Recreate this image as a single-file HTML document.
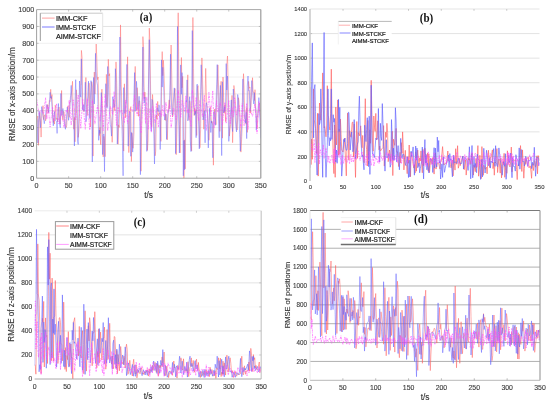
<!DOCTYPE html>
<html><head><meta charset="utf-8"><title>RMSE comparison</title>
<style>html,body{margin:0;padding:0;background:#fff;width:550px;height:405px;overflow:hidden}svg{display:block}</style>
</head><body>
<svg width="550" height="405" viewBox="0 0 550 405">
<rect x="0" y="0" width="550" height="405" fill="#ffffff"/>
<line x1="36.60" y1="161.34" x2="260.80" y2="161.34" stroke="#e8e8e8" stroke-width="0.8" />
<line x1="36.60" y1="144.48" x2="260.80" y2="144.48" stroke="#dcdcdc" stroke-width="0.8" />
<line x1="36.60" y1="127.62" x2="260.80" y2="127.62" stroke="#e8e8e8" stroke-width="0.8" />
<line x1="36.60" y1="110.76" x2="260.80" y2="110.76" stroke="#dcdcdc" stroke-width="0.8" />
<line x1="36.60" y1="93.90" x2="260.80" y2="93.90" stroke="#e8e8e8" stroke-width="0.8" />
<line x1="36.60" y1="77.04" x2="260.80" y2="77.04" stroke="#ececec" stroke-width="0.8" />
<line x1="36.60" y1="60.18" x2="260.80" y2="60.18" stroke="#dcdcdc" stroke-width="0.8" />
<line x1="36.60" y1="43.32" x2="260.80" y2="43.32" stroke="#ececec" stroke-width="0.8" />
<line x1="36.60" y1="26.46" x2="260.80" y2="26.46" stroke="#dcdcdc" stroke-width="0.8" />
<line x1="310.30" y1="156.43" x2="539.50" y2="156.43" stroke="#e0e0e0" stroke-width="0.9" />
<line x1="310.30" y1="131.86" x2="539.50" y2="131.86" stroke="#e0e0e0" stroke-width="0.9" />
<line x1="310.30" y1="107.29" x2="539.50" y2="107.29" stroke="#e0e0e0" stroke-width="0.9" />
<line x1="310.30" y1="82.71" x2="539.50" y2="82.71" stroke="#e0e0e0" stroke-width="0.9" />
<line x1="310.30" y1="58.14" x2="539.50" y2="58.14" stroke="#e0e0e0" stroke-width="0.9" />
<line x1="310.30" y1="33.57" x2="539.50" y2="33.57" stroke="#e0e0e0" stroke-width="0.9" />
<line x1="34.90" y1="354.97" x2="261.00" y2="354.97" stroke="#f6f6f6" stroke-width="0.9" />
<line x1="34.90" y1="330.94" x2="261.00" y2="330.94" stroke="#e0e0e0" stroke-width="0.9" />
<line x1="34.90" y1="306.91" x2="261.00" y2="306.91" stroke="#f6f6f6" stroke-width="0.9" />
<line x1="34.90" y1="282.89" x2="261.00" y2="282.89" stroke="#e0e0e0" stroke-width="0.9" />
<line x1="34.90" y1="258.86" x2="261.00" y2="258.86" stroke="#e0e0e0" stroke-width="0.9" />
<line x1="34.90" y1="234.83" x2="261.00" y2="234.83" stroke="#e0e0e0" stroke-width="0.9" />
<line x1="310.00" y1="361.43" x2="540.00" y2="361.43" stroke="#a8a8a8" stroke-width="0.9" />
<line x1="310.00" y1="342.57" x2="540.00" y2="342.57" stroke="#a8a8a8" stroke-width="0.9" />
<line x1="310.00" y1="323.70" x2="540.00" y2="323.70" stroke="#a8a8a8" stroke-width="0.9" />
<line x1="310.00" y1="304.83" x2="540.00" y2="304.83" stroke="#a8a8a8" stroke-width="0.9" />
<line x1="310.00" y1="285.97" x2="540.00" y2="285.97" stroke="#a8a8a8" stroke-width="0.9" />
<line x1="310.00" y1="267.10" x2="540.00" y2="267.10" stroke="#a8a8a8" stroke-width="0.9" />
<line x1="310.00" y1="248.23" x2="540.00" y2="248.23" stroke="#a8a8a8" stroke-width="0.9" />
<line x1="310.00" y1="229.37" x2="540.00" y2="229.37" stroke="#a8a8a8" stroke-width="0.9" />
<defs><filter id="soft" x="-5%" y="-5%" width="110%" height="110%"><feGaussianBlur stdDeviation="0.2"/></filter><clipPath id="clipa"><rect x="36.6" y="9.6" width="224.2" height="169.1"/></clipPath>
<clipPath id="clipb"><rect x="310.3" y="9.0" width="229.2" height="172.5"/></clipPath>
<clipPath id="clipc"><rect x="34.6" y="210.8" width="226.6" height="168.7"/></clipPath>
<clipPath id="clipd"><rect x="310.0" y="210.5" width="230.0" height="170.3"/></clipPath></defs>
<g clip-path="url(#clipa)"><g filter="url(#soft)">
<polyline fill="none" stroke="#ff6060" stroke-width="0.45" stroke-linejoin="round"  points="36.6,124.3 37.2,118.2 37.9,115.9 38.5,145.3 39.2,122.3 39.8,112.5 40.4,118.8 41.1,137.1 41.7,118.6 42.4,111.7 43.0,105.7 43.6,119.7 44.3,116.0 44.9,114.7 45.6,120.8 46.2,117.7 46.8,108.2 47.5,104.6 48.1,113.1 48.8,107.1 49.4,100.6 50.1,101.4 50.7,89.3 51.3,99.1 52.0,94.6 52.6,113.6 53.3,122.6 53.9,118.3 54.5,124.1 55.2,105.2 55.8,107.3 56.5,119.4 57.1,118.2 57.7,121.8 58.4,115.8 59.0,107.0 59.7,122.0 60.3,124.3 60.9,111.3 61.6,90.5 62.2,115.5 62.9,120.2 63.5,111.5 64.1,111.9 64.8,119.9 65.4,124.4 66.1,127.6 66.7,125.5 67.3,114.6 68.0,105.9 68.6,114.2 69.3,117.3 69.9,101.7 70.6,101.8 71.2,95.0 71.8,90.9 72.5,81.3 73.1,113.4 73.8,129.2 74.4,117.3 75.0,141.8 75.7,102.0 76.3,89.8 77.0,102.1 77.6,124.2 78.2,137.4 78.9,131.2 79.5,113.3 80.2,85.6 80.8,85.0 81.4,50.4 82.1,57.6 82.7,108.7 83.4,109.3 84.0,111.5 84.6,104.7 85.3,96.8 85.9,77.5 86.6,109.8 87.2,115.5 87.8,106.9 88.5,96.0 89.1,83.2 89.8,107.5 90.4,127.0 91.0,94.9 91.7,81.8 92.3,85.0 93.0,156.1 93.6,102.0 94.3,72.0 94.9,94.1 95.5,71.5 96.2,44.0 96.8,58.8 97.5,79.6 98.1,77.0 98.7,104.9 99.4,135.6 100.0,127.4 100.7,144.7 101.3,103.4 101.9,89.1 102.6,111.4 103.2,156.9 103.9,136.4 104.5,140.6 105.1,156.7 105.8,117.3 106.4,74.4 107.1,106.8 107.7,94.3 108.3,59.3 109.0,76.1 109.6,73.7 110.3,114.1 110.9,118.5 111.5,125.6 112.2,142.3 112.8,120.7 113.5,99.4 114.1,102.3 114.7,110.6 115.4,99.7 116.0,61.9 116.7,83.3 117.3,117.8 118.0,144.3 118.6,124.8 119.2,127.5 119.9,86.3 120.5,24.9 121.2,77.9 121.8,108.0 122.4,124.4 123.1,132.4 123.7,151.1 124.4,83.8 125.0,105.0 125.6,117.8 126.3,101.6 126.9,93.6 127.6,56.8 128.2,98.7 128.8,152.6 129.5,129.5 130.1,111.2 130.8,106.6 131.4,161.6 132.0,132.8 132.7,147.8 133.3,148.2 134.0,131.9 134.6,94.0 135.2,66.4 135.9,98.0 136.5,110.4 137.2,87.7 137.8,99.8 138.5,116.3 139.1,100.7 139.7,101.0 140.4,110.4 141.0,171.2 141.7,127.1 142.3,92.9 142.9,36.6 143.6,48.1 144.2,98.6 144.9,92.1 145.5,98.9 146.1,105.4 146.8,125.7 147.4,150.4 148.1,140.2 148.7,78.5 149.3,28.1 150.0,44.5 150.6,90.6 151.3,126.7 151.9,126.8 152.5,94.5 153.2,105.8 153.8,117.8 154.5,136.2 155.1,155.8 155.7,151.2 156.4,115.0 157.0,119.2 157.7,101.4 158.3,115.9 158.9,113.2 159.6,113.7 160.2,112.9 160.9,141.4 161.5,91.5 162.2,51.6 162.8,75.7 163.4,60.2 164.1,75.0 164.7,100.6 165.4,120.5 166.0,114.2 166.6,121.3 167.3,139.8 167.9,122.5 168.6,105.8 169.2,99.9 169.8,109.1 170.5,80.8 171.1,45.0 171.8,79.2 172.4,117.0 173.0,115.3 173.7,112.1 174.3,93.3 175.0,88.5 175.6,102.0 176.2,154.7 176.9,131.0 177.5,98.5 178.2,12.8 178.8,77.6 179.4,124.4 180.1,152.9 180.7,105.2 181.4,57.5 182.0,87.9 182.7,76.3 183.3,108.5 183.9,178.2 184.6,139.9 185.2,168.9 185.9,118.5 186.5,102.9 187.1,98.3 187.8,74.8 188.4,113.9 189.1,120.4 189.7,100.7 190.3,103.8 191.0,139.7 191.6,150.8 192.3,92.7 192.9,17.5 193.5,68.6 194.2,115.5 194.8,107.7 195.5,113.7 196.1,109.5 196.7,135.5 197.4,88.7 198.0,85.6 198.7,102.0 199.3,124.8 199.9,147.7 200.6,129.8 201.2,89.7 201.9,57.9 202.5,77.2 203.1,100.2 203.8,129.2 204.4,109.3 205.1,99.5 205.7,68.4 206.4,95.1 207.0,111.5 207.6,113.8 208.3,125.1 208.9,140.3 209.6,125.4 210.2,106.7 210.8,110.1 211.5,123.1 212.1,121.5 212.8,125.3 213.4,165.2 214.0,119.2 214.7,109.0 215.3,116.1 216.0,124.7 216.6,99.2 217.2,89.4 217.9,64.9 218.5,85.1 219.2,114.9 219.8,131.4 220.4,93.0 221.1,81.3 221.7,103.2 222.4,138.2 223.0,77.0 223.6,97.5 224.3,113.2 224.9,104.8 225.6,121.7 226.2,108.6 226.8,64.1 227.5,56.0 228.1,79.2 228.8,110.7 229.4,136.1 230.1,128.8 230.7,124.2 231.3,110.3 232.0,95.4 232.6,142.7 233.3,118.7 233.9,85.5 234.5,90.4 235.2,97.4 235.8,110.3 236.5,124.8 237.1,130.0 237.7,117.9 238.4,97.7 239.0,101.2 239.7,112.3 240.3,122.8 240.9,152.1 241.6,139.5 242.2,126.1 242.9,94.4 243.5,73.7 244.1,89.0 244.8,118.9 245.4,119.2 246.1,124.3 246.7,107.7 247.3,132.4 248.0,95.1 248.6,81.4 249.3,88.2 249.9,87.2 250.6,113.2 251.2,100.6 251.8,90.8 252.5,77.7 253.1,92.2 253.8,92.2 254.4,100.6 255.0,89.7 255.7,107.2 256.3,113.8 257.0,128.9 257.6,120.3 258.2,112.4 258.9,105.5 259.5,103.1 260.2,110.8 260.8,126.9"/>
<polyline fill="none" stroke="#6060ff" stroke-width="0.45" stroke-linejoin="round"  points="36.6,117.8 37.2,121.1 37.9,143.0 38.5,121.0 39.2,111.2 39.8,119.5 40.4,127.7 41.1,117.2 41.7,106.6 42.4,110.9 43.0,115.2 43.6,119.4 44.3,123.7 44.9,118.9 45.6,114.1 46.2,109.4 46.8,104.6 47.5,107.2 48.1,109.8 48.8,112.5 49.4,104.5 50.1,92.3 50.7,98.0 51.3,96.5 52.0,106.3 52.6,116.0 53.3,125.8 53.9,118.7 54.5,111.6 55.2,116.3 55.8,120.9 56.5,121.4 57.1,133.4 57.7,114.6 58.4,103.5 59.0,114.1 59.7,124.6 60.3,127.8 60.9,93.4 61.6,115.3 62.2,115.2 62.9,108.5 63.5,113.6 64.1,118.7 64.8,125.7 65.4,129.3 66.1,123.8 66.7,114.4 67.3,107.1 68.0,113.7 68.6,120.3 69.3,112.8 69.9,105.3 70.6,95.3 71.2,85.4 71.8,97.6 72.5,110.7 73.1,120.9 73.8,122.4 74.4,146.0 75.0,101.1 75.7,79.7 76.3,99.9 77.0,120.1 77.6,141.2 78.2,144.5 78.9,114.6 79.5,81.0 80.2,94.1 80.8,97.2 81.4,58.9 82.1,101.9 82.7,110.0 83.4,104.7 84.0,111.3 84.6,108.5 85.3,82.2 85.9,121.9 86.6,118.5 87.2,106.1 87.8,93.7 88.5,81.2 89.1,99.9 89.8,118.5 90.4,99.6 91.0,80.7 91.7,86.3 92.3,162.0 93.0,99.7 93.6,77.4 94.3,104.0 94.9,87.1 95.5,53.3 96.2,71.4 96.8,81.8 97.5,85.2 98.1,113.5 98.7,140.3 99.4,130.1 100.0,133.5 100.7,111.4 101.3,92.6 101.9,119.3 102.6,154.6 103.2,134.7 103.9,134.0 104.5,171.6 105.1,116.3 105.8,83.7 106.4,102.9 107.1,108.3 107.7,66.5 108.3,78.9 109.0,101.0 109.6,115.9 110.3,124.8 110.9,127.6 111.5,136.1 112.2,117.7 112.8,96.7 113.5,102.0 114.1,107.4 114.7,103.5 115.4,68.7 116.0,82.5 116.7,110.2 117.3,144.0 118.0,130.0 118.6,118.4 119.2,100.0 119.9,37.0 120.5,84.9 121.2,113.0 121.8,121.3 122.4,141.2 123.1,175.8 123.7,87.6 124.4,113.1 125.0,113.3 125.6,105.1 126.3,102.7 126.9,64.4 127.6,116.4 128.2,146.2 128.8,128.9 129.5,111.5 130.1,112.2 130.8,156.3 131.4,132.5 132.0,137.6 132.7,152.1 133.3,125.5 134.0,93.7 134.6,72.6 135.2,111.3 135.9,101.4 136.5,81.3 137.2,95.5 137.8,109.6 138.5,103.0 139.1,96.3 139.7,106.2 140.4,174.7 141.0,122.6 141.7,108.5 142.3,97.9 142.9,47.0 143.6,87.8 144.2,103.1 144.9,97.0 145.5,106.9 146.1,125.5 146.8,151.4 147.4,140.5 148.1,108.8 148.7,71.7 149.3,39.7 150.0,84.7 150.6,118.8 151.3,131.2 151.9,99.4 152.5,100.1 153.2,109.6 153.8,134.1 154.5,164.0 155.1,134.6 155.7,118.1 156.4,112.9 157.0,107.6 157.7,109.6 158.3,111.6 158.9,104.8 159.6,107.1 160.2,149.5 160.9,107.5 161.5,59.9 162.2,87.1 162.8,67.3 163.4,78.3 164.1,100.4 164.7,120.0 165.4,113.6 166.0,114.7 166.6,139.4 167.3,122.3 167.9,113.5 168.6,110.9 169.2,108.3 169.8,95.2 170.5,54.2 171.1,91.9 171.8,112.6 172.4,114.9 173.0,105.9 173.7,96.9 174.3,87.9 175.0,103.5 175.6,153.6 176.2,126.7 176.9,116.6 177.5,26.5 178.2,97.3 178.8,125.8 179.4,152.9 180.1,116.1 180.7,64.9 181.4,94.3 182.0,72.6 182.7,106.7 183.3,175.8 183.9,140.4 184.6,169.8 185.2,117.6 185.9,100.4 186.5,102.0 187.1,79.9 187.8,120.8 188.4,117.1 189.1,101.2 189.7,96.7 190.3,141.1 191.0,151.6 191.6,109.2 192.3,30.6 192.9,89.8 193.5,105.7 194.2,110.4 194.8,115.1 195.5,111.2 196.1,137.7 196.7,84.8 197.4,84.1 198.0,105.7 198.7,127.3 199.3,148.9 199.9,120.9 200.6,92.8 201.2,64.8 201.9,83.2 202.5,101.6 203.1,120.0 203.8,114.9 204.4,110.7 205.1,142.8 205.7,107.4 206.4,102.7 207.0,106.2 207.6,121.3 208.3,147.9 208.9,123.2 209.6,108.3 210.2,120.4 210.8,132.5 211.5,120.9 212.1,123.9 212.8,157.8 213.4,115.1 214.0,111.5 214.7,118.4 215.3,125.3 216.0,105.1 216.6,84.9 217.2,64.6 217.9,89.4 218.5,118.4 219.2,137.7 219.8,98.8 220.4,85.4 221.1,117.0 221.7,155.6 222.4,81.8 223.0,107.4 223.6,112.9 224.3,106.6 224.9,111.7 225.6,106.4 226.2,63.6 226.8,90.0 227.5,76.1 228.1,108.8 228.8,141.4 229.4,131.0 230.1,120.6 230.7,110.2 231.3,99.9 232.0,126.4 232.6,131.6 233.3,89.0 233.9,95.8 234.5,107.4 235.2,117.0 235.8,126.7 236.5,131.8 237.1,122.6 237.7,94.5 238.4,100.9 239.0,117.7 239.7,134.4 240.3,151.1 240.9,139.2 241.6,127.2 242.2,107.1 242.9,78.9 243.5,102.4 244.1,113.2 244.8,118.1 245.4,123.1 246.1,112.3 246.7,138.6 247.3,86.2 248.0,76.0 248.6,90.6 249.3,90.5 249.9,111.2 250.6,106.8 251.2,93.7 251.8,80.6 252.5,89.4 253.1,98.2 253.8,104.0 254.4,92.6 255.0,105.9 255.7,108.7 256.3,130.1 257.0,116.1 257.6,116.4 258.2,107.0 258.9,97.6 259.5,111.2 260.2,124.8 260.8,138.4"/>
<polyline fill="none" stroke="#ff48ff" stroke-width="0.6" stroke-dasharray="2.2,0.9,0.8,0.9" stroke-linejoin="round"  points="36.6,98.9 37.2,102.8 37.9,106.7 38.5,110.6 39.2,114.5 39.8,113.2 40.4,111.9 41.1,110.6 41.7,111.4 42.4,112.1 43.0,112.9 43.6,113.7 44.3,108.4 44.9,103.1 45.6,97.8 46.2,108.6 46.8,119.3 47.5,112.4 48.1,105.6 48.8,112.7 49.4,119.9 50.1,127.1 50.7,122.1 51.3,117.1 52.0,112.1 52.6,107.1 53.3,113.9 53.9,120.8 54.5,116.5 55.2,112.2 55.8,107.9 56.5,103.5 57.1,108.7 57.7,113.8 58.4,118.9 59.0,124.0 59.7,120.7 60.3,117.4 60.9,114.1 61.6,110.8 62.2,115.1 62.9,119.3 63.5,123.6 64.1,127.8 64.8,121.9 65.4,115.9 66.1,110.0 66.7,111.3 67.3,112.5 68.0,108.3 68.6,104.2 69.3,100.0 69.9,108.5 70.6,116.9 71.2,125.4 71.8,116.9 72.5,108.3 73.1,99.8 73.8,104.9 74.4,110.0 75.0,115.1 75.7,120.3 76.3,113.9 77.0,107.4 77.6,101.0 78.2,94.6 78.9,103.1 79.5,111.6 80.2,120.1 80.8,128.5 81.4,118.8 82.1,109.0 82.7,99.2 83.4,106.7 84.0,114.2 84.6,121.7 85.3,129.3 85.9,119.0 86.6,108.7 87.2,98.4 87.8,106.3 88.5,114.2 89.1,122.1 89.8,129.9 90.4,122.4 91.0,114.9 91.7,107.4 92.3,99.9 93.0,106.0 93.6,112.1 94.3,118.2 94.9,124.3 95.5,119.6 96.2,115.0 96.8,110.4 97.5,105.7 98.1,109.6 98.7,113.5 99.4,117.4 100.0,121.3 100.7,113.1 101.3,104.9 101.9,96.8 102.6,113.7 103.2,130.6 103.9,118.4 104.5,106.1 105.1,93.9 105.8,103.1 106.4,112.3 107.1,121.6 107.7,130.8 108.3,124.6 109.0,118.4 109.6,112.2 110.3,106.1 110.9,108.2 111.5,110.4 112.2,112.5 112.8,114.7 113.5,103.2 114.1,91.8 114.7,100.3 115.4,108.8 116.0,117.3 116.7,125.9 117.3,116.6 118.0,107.2 118.6,109.2 119.2,111.1 119.9,113.1 120.5,112.0 121.2,110.9 121.8,109.9 122.4,113.0 123.1,116.2 123.7,119.4 124.4,122.5 125.0,111.3 125.6,100.0 126.3,107.9 126.9,115.7 127.6,123.6 128.2,119.8 128.8,115.9 129.5,112.1 130.1,108.3 130.8,109.1 131.4,110.0 132.0,110.9 132.7,111.7 133.3,106.1 134.0,100.5 134.6,94.9 135.2,100.1 135.9,105.2 136.5,110.4 137.2,115.5 137.8,110.0 138.5,104.5 139.1,111.6 139.7,118.7 140.4,125.9 141.0,133.0 141.7,122.8 142.3,112.6 142.9,102.3 143.6,92.1 144.2,102.5 144.9,112.9 145.5,123.3 146.1,110.0 146.8,96.7 147.4,113.2 148.1,129.7 148.7,122.5 149.3,115.4 150.0,108.2 150.6,120.2 151.3,132.2 151.9,119.3 152.5,106.5 153.2,110.6 153.8,114.8 154.5,118.9 155.1,123.1 155.7,113.2 156.4,103.3 157.0,111.3 157.7,119.2 158.3,127.2 158.9,121.6 159.6,116.0 160.2,110.5 160.9,113.6 161.5,116.7 162.2,111.1 162.8,105.5 163.4,111.1 164.1,116.7 164.7,111.8 165.4,107.0 166.0,102.1 166.6,107.6 167.3,113.0 167.9,110.8 168.6,108.6 169.2,106.4 169.8,104.2 170.5,116.1 171.1,127.9 171.8,122.9 172.4,118.0 173.0,113.0 173.7,108.0 174.3,111.0 175.0,114.0 175.6,117.1 176.2,120.1 176.9,110.1 177.5,100.1 178.2,90.1 178.8,97.0 179.4,103.9 180.1,110.7 180.7,117.6 181.4,109.0 182.0,100.4 182.7,103.2 183.3,106.1 183.9,108.9 184.6,111.7 185.2,103.6 185.9,95.4 186.5,104.3 187.1,113.2 187.8,111.0 188.4,108.8 189.1,113.1 189.7,117.5 190.3,121.9 191.0,126.2 191.6,108.0 192.3,89.8 192.9,95.6 193.5,101.4 194.2,107.1 194.8,112.9 195.5,105.0 196.1,97.2 196.7,103.1 197.4,109.0 198.0,114.9 198.7,120.9 199.3,110.7 199.9,100.6 200.6,104.7 201.2,108.8 201.9,112.9 202.5,117.0 203.1,109.9 203.8,102.7 204.4,95.5 205.1,107.1 205.7,118.7 206.4,130.3 207.0,120.8 207.6,111.3 208.3,101.9 208.9,92.4 209.6,100.2 210.2,108.1 210.8,116.0 211.5,107.5 212.1,99.0 212.8,90.5 213.4,109.2 214.0,127.8 214.7,121.0 215.3,114.2 216.0,107.4 216.6,100.5 217.2,106.4 217.9,112.2 218.5,109.7 219.2,107.3 219.8,104.8 220.4,102.3 221.1,109.8 221.7,117.2 222.4,124.6 223.0,119.1 223.6,113.5 224.3,107.9 224.9,102.3 225.6,112.7 226.2,123.1 226.8,117.5 227.5,111.8 228.1,106.2 228.8,100.5 229.4,112.3 230.1,124.1 230.7,118.6 231.3,113.1 232.0,107.6 232.6,112.1 233.3,116.6 233.9,107.2 234.5,97.8 235.2,103.7 235.8,109.6 236.5,115.5 237.1,113.0 237.7,110.5 238.4,108.0 239.0,105.5 239.7,112.9 240.3,120.3 240.9,127.7 241.6,115.7 242.2,103.7 242.9,111.0 243.5,118.2 244.1,125.5 244.8,119.9 245.4,114.4 246.1,108.8 246.7,103.3 247.3,116.6 248.0,129.9 248.6,122.7 249.3,115.5 249.9,108.3 250.6,110.4 251.2,112.4 251.8,114.5 252.5,116.5 253.1,113.3 253.8,110.2 254.4,107.0 255.0,103.8 255.7,113.7 256.3,123.6 257.0,133.5 257.6,122.8 258.2,112.0 258.9,101.2 259.5,108.0 260.2,114.8 260.8,121.6"/>
</g></g>
<g clip-path="url(#clipb)"><g filter="url(#soft)">
<polyline fill="none" stroke="#ff6060" stroke-width="0.65" stroke-linejoin="round"  points="310.3,87.2 311.0,164.6 311.6,139.1 312.3,159.3 312.9,124.1 313.6,88.9 314.2,119.8 314.9,124.1 315.5,128.5 316.2,141.0 316.8,153.6 317.5,113.3 318.2,176.1 318.8,150.7 319.5,103.0 320.1,111.6 320.8,120.2 321.4,112.2 322.1,97.0 322.7,72.9 323.4,110.4 324.1,127.8 324.7,126.6 325.4,131.7 326.0,136.8 326.7,125.0 327.3,85.7 328.0,115.2 328.6,117.8 329.3,126.4 329.9,130.1 330.6,113.6 331.3,69.2 331.9,113.0 332.6,130.9 333.2,158.0 333.9,173.6 334.5,125.0 335.2,177.3 335.8,107.1 336.5,144.9 337.1,125.1 337.8,99.9 338.5,155.2 339.1,128.9 339.8,154.3 340.4,119.0 341.1,134.5 341.7,150.0 342.4,151.0 343.0,152.0 343.7,145.1 344.4,138.3 345.0,148.8 345.7,162.3 346.3,175.8 347.0,144.4 347.6,113.1 348.3,136.6 348.9,160.1 349.6,130.6 350.2,133.9 350.9,137.2 351.6,129.9 352.2,122.4 352.9,122.0 353.5,157.1 354.2,124.1 354.8,150.8 355.5,177.4 356.1,149.5 356.8,121.5 357.4,158.4 358.1,132.5 358.8,134.2 359.4,135.8 360.1,130.8 360.7,125.8 361.4,136.8 362.0,147.8 362.7,135.4 363.3,149.1 364.0,162.8 364.7,128.2 365.3,98.7 366.0,144.1 366.6,149.3 367.3,166.0 367.9,120.4 368.6,163.9 369.2,146.8 369.9,129.8 370.5,143.3 371.2,80.3 371.9,114.6 372.5,142.0 373.2,151.3 373.8,116.0 374.5,127.2 375.1,131.4 375.8,113.4 376.4,139.9 377.1,136.6 377.8,120.8 378.4,135.3 379.1,149.8 379.7,146.1 380.4,151.2 381.0,150.2 381.7,149.1 382.3,148.3 383.0,147.4 383.6,125.6 384.3,166.1 385.0,149.2 385.6,132.2 386.3,137.4 386.9,123.3 387.6,132.4 388.2,161.7 388.9,155.8 389.5,150.0 390.2,155.7 390.8,161.5 391.5,146.4 392.2,131.3 392.8,175.6 393.5,139.2 394.1,142.3 394.8,145.4 395.4,136.9 396.1,128.4 396.7,152.2 397.4,151.8 398.1,159.2 398.7,166.6 399.4,159.5 400.0,152.3 400.7,162.9 401.3,142.6 402.0,153.3 402.6,131.9 403.3,147.7 403.9,169.9 404.6,160.1 405.3,150.3 405.9,165.1 406.6,165.4 407.2,173.7 407.9,156.7 408.5,163.3 409.2,145.0 409.8,160.8 410.5,176.7 411.1,152.2 411.8,155.5 412.5,158.8 413.1,164.2 413.8,168.1 414.4,164.6 415.1,173.1 415.7,151.7 416.4,171.2 417.0,160.6 417.7,150.0 418.4,158.2 419.0,166.5 419.7,157.8 420.3,161.1 421.0,150.9 421.6,161.9 422.3,172.8 422.9,149.3 423.6,165.8 424.2,157.0 424.9,148.2 425.6,155.6 426.2,162.9 426.9,158.1 427.5,153.2 428.2,171.1 428.8,153.7 429.5,172.6 430.1,165.7 430.8,158.7 431.4,161.3 432.1,163.9 432.8,157.6 433.4,165.9 434.1,174.1 434.7,163.5 435.4,152.9 436.0,169.1 436.7,166.2 437.3,163.3 438.0,162.9 438.7,163.3 439.3,166.2 440.0,169.1 440.6,162.3 441.3,161.3 441.9,153.9 442.6,146.6 443.2,155.8 443.9,165.0 444.5,164.2 445.2,163.3 445.9,163.3 446.5,163.3 447.2,157.1 447.8,151.0 448.5,161.0 449.1,160.9 449.8,160.9 450.4,164.4 451.1,167.9 451.7,164.0 452.4,160.0 453.1,175.9 453.7,156.6 454.4,163.3 455.0,170.1 455.7,148.7 456.3,164.3 457.0,155.0 457.6,145.7 458.3,168.2 459.0,165.4 459.6,158.4 460.3,165.6 460.9,162.9 461.6,160.3 462.2,158.2 462.9,156.2 463.5,162.9 464.2,169.7 464.8,164.7 465.5,159.7 466.2,175.1 466.8,167.9 467.5,160.7 468.1,157.6 468.8,160.1 469.4,158.6 470.1,164.5 470.7,160.5 471.4,156.9 472.0,153.2 472.7,164.1 473.4,175.1 474.0,165.2 474.7,168.5 475.3,171.7 476.0,158.5 476.6,167.6 477.3,156.6 477.9,145.6 478.6,176.2 479.3,165.8 479.9,155.3 480.6,167.0 481.2,178.6 481.9,146.6 482.5,161.0 483.2,175.3 483.8,165.3 484.5,167.3 485.1,169.3 485.8,168.3 486.5,167.3 487.1,173.8 487.8,162.0 488.4,150.2 489.1,158.9 489.7,167.6 490.4,157.4 491.0,157.6 491.7,153.7 492.4,149.9 493.0,168.6 493.7,162.4 494.3,175.2 495.0,162.1 495.6,163.0 496.3,155.8 496.9,148.6 497.6,172.6 498.2,165.7 498.9,158.9 499.6,166.0 500.2,173.1 500.9,158.2 501.5,177.9 502.2,169.7 502.8,161.5 503.5,164.6 504.1,153.3 504.8,177.3 505.4,170.4 506.1,163.6 506.8,173.3 507.4,150.8 508.1,157.6 508.7,164.4 509.4,165.7 510.0,166.9 510.7,161.8 511.3,147.1 512.0,171.9 512.7,165.8 513.3,159.7 514.0,160.1 514.6,160.4 515.3,160.2 515.9,160.1 516.6,169.8 517.2,179.6 517.9,164.6 518.5,165.2 519.2,165.7 519.9,155.7 520.5,145.6 521.2,158.6 521.8,171.5 522.5,149.9 523.1,164.1 523.8,178.2 524.4,168.5 525.1,158.7 525.7,164.4 526.4,161.0 527.1,157.6 527.7,158.2 528.4,157.3 529.0,167.8 529.7,166.8 530.3,165.9 531.0,172.1 531.6,178.3 532.3,163.4 533.0,167.0 533.6,170.5 534.3,160.5 534.9,161.5 535.6,167.2 536.2,161.7 536.9,155.8 537.5,173.8 538.2,155.6 538.8,158.1 539.5,160.6"/>
<polyline fill="none" stroke="#6060ff" stroke-width="0.65" stroke-linejoin="round"  points="310.3,167.8 311.0,134.3 311.6,81.4 312.3,42.9 312.9,101.7 313.6,137.9 314.2,89.3 314.9,84.6 315.5,111.7 316.2,149.2 316.8,174.9 317.5,174.9 318.2,144.2 318.8,113.5 319.5,124.6 320.1,122.4 320.8,88.9 321.4,113.4 322.1,151.7 322.7,177.3 323.4,106.3 324.1,32.5 324.7,134.9 325.4,158.7 326.0,177.3 326.7,161.1 327.3,145.3 328.0,88.9 328.6,135.2 329.3,145.8 329.9,137.7 330.6,140.8 331.3,88.9 331.9,139.4 332.6,130.8 333.2,114.7 333.9,122.2 334.5,118.5 335.2,140.3 335.8,162.0 336.5,150.0 337.1,163.3 337.8,150.6 338.5,99.4 339.1,131.6 339.8,107.3 340.4,141.7 341.1,153.7 341.7,176.1 342.4,167.1 343.0,151.1 343.7,139.4 344.4,141.8 345.0,138.0 345.7,148.2 346.3,150.3 347.0,149.9 347.6,143.4 348.3,112.2 348.9,112.6 349.6,131.4 350.2,150.1 350.9,141.0 351.6,132.0 352.2,139.3 352.9,151.8 353.5,148.0 354.2,119.6 354.8,139.1 355.5,158.6 356.1,153.0 356.8,147.3 357.4,144.4 358.1,141.6 358.8,110.1 359.4,96.2 360.1,125.8 360.7,138.0 361.4,147.3 362.0,156.7 362.7,155.0 363.3,162.4 364.0,169.8 364.7,125.2 365.3,133.4 366.0,141.6 366.6,129.6 367.3,117.7 367.9,142.2 368.6,166.6 369.2,116.2 369.9,174.4 370.5,138.9 371.2,85.2 371.9,142.0 372.5,154.0 373.2,153.7 373.8,155.6 374.5,157.5 375.1,147.8 375.8,138.1 376.4,138.8 377.1,139.5 377.8,137.9 378.4,108.5 379.1,145.6 379.7,162.1 380.4,123.3 381.0,136.4 381.7,140.4 382.3,103.6 383.0,124.8 383.6,146.5 384.3,157.0 385.0,171.1 385.6,155.4 386.3,139.7 386.9,158.0 387.6,157.0 388.2,156.1 388.9,153.7 389.5,156.3 390.2,167.2 390.8,164.4 391.5,119.6 392.2,139.3 392.8,160.3 393.5,148.2 394.1,160.4 394.8,154.6 395.4,107.7 396.1,121.1 396.7,161.8 397.4,153.7 398.1,145.6 398.7,157.7 399.4,169.8 400.0,154.1 400.7,138.4 401.3,148.3 402.0,158.3 402.6,154.6 403.3,154.5 403.9,154.5 404.6,159.3 405.3,164.2 405.9,165.6 406.6,161.1 407.2,156.7 407.9,167.1 408.5,177.5 409.2,160.1 409.8,176.9 410.5,164.0 411.1,151.1 411.8,156.6 412.5,151.7 413.1,146.9 413.8,161.1 414.4,175.2 415.1,160.6 415.7,146.0 416.4,160.1 417.0,148.1 417.7,167.7 418.4,165.3 419.0,163.0 419.7,172.8 420.3,168.7 421.0,164.6 421.6,161.6 422.3,147.1 422.9,163.0 423.6,178.9 424.2,154.5 424.9,139.6 425.6,163.3 426.2,154.5 426.9,169.8 427.5,162.9 428.2,167.9 428.8,172.9 429.5,165.7 430.1,158.6 430.8,159.0 431.4,159.3 432.1,162.0 432.8,172.5 433.4,160.1 434.1,147.7 434.7,168.1 435.4,148.1 436.0,162.6 436.7,167.0 437.3,137.1 438.0,151.8 438.7,140.5 439.3,163.1 440.0,160.8 440.6,179.0 441.3,171.4 441.9,163.9 442.6,177.4 443.2,157.0 443.9,164.7 444.5,172.3 445.2,168.7 445.9,165.0 446.5,163.3 447.2,161.6 447.8,158.3 448.5,155.0 449.1,167.4 449.8,153.6 450.4,160.3 451.1,158.8 451.7,167.8 452.4,176.8 453.1,165.9 453.7,155.0 454.4,163.2 455.0,162.5 455.7,161.8 456.3,162.6 457.0,163.5 457.6,160.8 458.3,158.1 459.0,160.1 459.6,162.2 460.3,163.6 460.9,163.6 461.6,163.5 462.2,159.8 462.9,156.1 463.5,169.0 464.2,163.1 464.8,157.2 465.5,158.1 466.2,159.1 466.8,160.5 467.5,165.4 468.1,170.4 468.8,158.6 469.4,146.8 470.1,162.8 470.7,178.8 471.4,162.1 472.0,145.5 472.7,177.8 473.4,167.2 474.0,156.5 474.7,167.3 475.3,163.4 476.0,168.1 476.6,172.7 477.3,154.2 477.9,158.7 478.6,159.5 479.3,160.3 479.9,169.8 480.6,179.4 481.2,169.3 481.9,159.3 482.5,176.9 483.2,162.6 483.8,148.3 484.5,160.6 485.1,173.0 485.8,161.6 486.5,150.3 487.1,155.0 487.8,159.7 488.4,165.7 489.1,162.9 489.7,157.6 490.4,168.1 491.0,161.0 491.7,162.0 492.4,163.0 493.0,155.8 493.7,148.6 494.3,157.5 495.0,166.4 495.6,145.7 496.3,162.5 496.9,165.4 497.6,166.6 498.2,157.2 498.9,147.9 499.6,154.1 500.2,160.3 500.9,163.3 501.5,166.3 502.2,175.2 502.8,168.5 503.5,161.7 504.1,164.1 504.8,166.4 505.4,153.7 506.1,179.3 506.8,171.3 507.4,163.3 508.1,161.4 508.7,155.4 509.4,162.7 510.0,157.9 510.7,153.1 511.3,165.4 512.0,177.7 512.7,157.4 513.3,166.3 514.0,166.4 514.6,166.5 515.3,171.1 515.9,154.7 516.6,158.5 517.2,159.3 517.9,160.1 518.5,166.0 519.2,147.9 519.9,169.2 520.5,159.3 521.2,149.5 521.8,158.2 522.5,161.4 523.1,161.2 523.8,161.1 524.4,166.1 525.1,161.2 525.7,156.3 526.4,159.2 527.1,162.2 527.7,166.2 528.4,160.1 529.0,160.5 529.7,160.9 530.3,159.9 531.0,157.0 531.6,168.6 532.3,162.2 533.0,163.8 533.6,165.4 534.3,147.3 534.9,161.7 535.6,176.2 536.2,166.6 536.9,157.1 537.5,157.3 538.2,157.6 538.8,165.8 539.5,162.6"/>
<polyline fill="none" stroke="#ff48ff" stroke-width="0.6" stroke-dasharray="2.2,0.9,0.8,0.9" stroke-linejoin="round"  points="310.3,149.8 311.0,144.1 311.6,147.9 312.3,149.1 312.9,151.5 313.6,146.0 314.2,139.6 314.9,162.5 315.5,154.2 316.2,145.9 316.8,151.0 317.5,156.1 318.2,149.5 318.8,142.9 319.5,164.2 320.1,149.3 320.8,151.3 321.4,153.3 322.1,155.2 322.7,150.0 323.4,144.8 324.1,158.3 324.7,154.9 325.4,151.5 326.0,148.1 326.7,152.9 327.3,157.6 328.0,162.4 328.6,155.7 329.3,159.6 329.9,163.5 330.6,160.7 331.3,158.0 331.9,155.2 332.6,159.2 333.2,163.1 333.9,148.9 334.5,164.1 335.2,147.4 335.8,160.1 336.5,157.1 337.1,154.1 337.8,151.2 338.5,154.6 339.1,158.0 339.8,149.5 340.4,157.2 341.1,164.9 341.7,160.0 342.4,155.0 343.0,159.2 343.7,163.4 344.4,160.1 345.0,156.8 345.7,158.7 346.3,160.5 347.0,162.4 347.6,158.8 348.3,155.1 348.9,159.3 349.6,163.6 350.2,159.0 350.9,154.5 351.6,162.2 352.2,159.1 352.9,156.1 353.5,162.0 354.2,159.3 354.8,156.6 355.5,153.9 356.1,160.0 356.8,156.8 357.4,153.7 358.1,150.5 358.8,153.9 359.4,157.3 360.1,160.7 360.7,157.7 361.4,154.7 362.0,151.7 362.7,154.6 363.3,157.6 364.0,160.5 364.7,155.8 365.3,160.6 366.0,165.5 366.6,154.6 367.3,156.7 367.9,158.8 368.6,160.9 369.2,151.6 369.9,156.2 370.5,160.9 371.2,165.5 371.9,161.2 372.5,156.9 373.2,152.6 373.8,166.3 374.5,163.0 375.1,159.7 375.8,156.4 376.4,158.5 377.1,160.6 377.8,162.7 378.4,156.7 379.1,163.7 379.7,158.1 380.4,152.6 381.0,155.3 381.7,158.1 382.3,160.8 383.0,158.5 383.6,156.1 384.3,158.3 385.0,160.4 385.6,157.7 386.3,154.9 386.9,152.1 387.6,155.4 388.2,158.7 388.9,153.4 389.5,156.6 390.2,159.8 390.8,163.0 391.5,153.9 392.2,164.6 392.8,160.3 393.5,156.1 394.1,158.1 394.8,160.2 395.4,157.4 396.1,154.7 396.7,158.8 397.4,162.9 398.1,156.7 398.7,157.3 399.4,157.9 400.0,158.6 400.7,155.9 401.3,163.8 402.0,160.9 402.6,158.0 403.3,158.3 403.9,158.6 404.6,159.0 405.3,158.3 405.9,157.6 406.6,156.9 407.2,163.7 407.9,160.4 408.5,157.1 409.2,158.2 409.8,159.2 410.5,160.3 411.1,156.3 411.8,152.3 412.5,157.1 413.1,161.9 413.8,166.7 414.4,163.3 415.1,160.0 415.7,156.7 416.4,161.0 417.0,158.2 417.7,155.4 418.4,156.9 419.0,158.4 419.7,159.9 420.3,159.2 421.0,158.5 421.6,160.5 422.3,162.5 422.9,164.5 423.6,150.6 424.2,155.9 424.9,161.2 425.6,166.5 426.2,155.3 426.9,165.6 427.5,158.8 428.2,151.9 428.8,155.0 429.5,158.1 430.1,161.2 430.8,157.5 431.4,161.4 432.1,165.3 432.8,161.1 433.4,157.0 434.1,152.9 434.7,164.9 435.4,162.6 436.0,160.3 436.7,158.1 437.3,160.5 438.0,162.9 438.7,159.0 439.3,155.0 440.0,163.2 440.6,160.4 441.3,157.7 441.9,154.9 442.6,159.1 443.2,163.3 443.9,159.5 444.5,155.7 445.2,158.7 445.9,161.6 446.5,164.6 447.2,156.8 447.8,158.1 448.5,159.4 449.1,160.7 449.8,158.1 450.4,160.4 451.1,162.8 451.7,156.5 452.4,164.0 453.1,155.0 453.7,156.5 454.4,157.9 455.0,159.3 455.7,157.0 456.3,154.6 457.0,152.3 457.6,156.0 458.3,159.8 459.0,163.5 459.6,159.7 460.3,155.8 460.9,157.7 461.6,159.5 462.2,158.6 462.9,159.7 463.5,160.8 464.2,161.9 464.8,154.5 465.5,159.7 466.2,156.0 466.8,159.4 467.5,162.9 468.1,166.4 468.8,159.3 469.4,152.2 470.1,156.2 470.7,160.1 471.4,164.0 472.0,152.3 472.7,156.2 473.4,160.0 474.0,157.6 474.7,155.2 475.3,152.8 476.0,157.5 476.6,162.2 477.3,166.9 477.9,155.8 478.6,159.7 479.3,159.3 479.9,165.6 480.6,159.3 481.2,161.7 481.9,164.2 482.5,166.6 483.2,159.5 483.8,152.4 484.5,158.4 485.1,164.3 485.8,160.5 486.5,156.7 487.1,153.0 487.8,158.8 488.4,164.7 489.1,160.8 489.7,156.9 490.4,153.0 491.0,156.1 491.7,159.3 492.4,162.5 493.0,160.6 493.7,158.7 494.3,156.8 495.0,158.4 495.6,160.0 496.3,159.0 496.9,158.0 497.6,156.9 498.2,158.2 498.9,159.4 499.6,160.6 500.2,154.5 500.9,157.3 501.5,160.2 502.2,163.0 502.8,157.3 503.5,164.7 504.1,162.5 504.8,160.4 505.4,158.2 506.1,161.5 506.8,164.7 507.4,152.2 508.1,163.8 508.7,152.4 509.4,165.1 510.0,153.5 510.7,156.9 511.3,160.3 512.0,153.5 512.7,162.9 513.3,155.6 514.0,165.0 514.6,162.3 515.3,159.6 515.9,156.9 516.6,165.2 517.2,158.5 517.9,160.7 518.5,159.5 519.2,158.3 519.9,157.2 520.5,160.4 521.2,163.7 521.8,161.7 522.5,159.8 523.1,157.8 523.8,160.2 524.4,158.8 525.1,157.4 525.7,160.4 526.4,159.0 527.1,157.7 527.7,166.6 528.4,162.6 529.0,158.5 529.7,154.5 530.3,156.8 531.0,159.0 531.6,161.2 532.3,158.4 533.0,155.6 533.6,152.8 534.3,156.5 534.9,160.2 535.6,159.5 536.2,158.8 536.9,158.0 537.5,160.7 538.2,163.3 538.8,165.9 539.5,162.7"/>
</g></g>
<g clip-path="url(#clipc)"><g filter="url(#soft)">
<polyline fill="none" stroke="#ff6060" stroke-width="0.55" stroke-linejoin="round"  points="34.6,364.3 35.2,365.5 35.9,374.2 36.5,329.6 37.2,306.5 37.8,243.9 38.5,296.0 39.1,300.2 39.8,325.7 40.4,366.4 41.1,373.7 41.7,364.4 42.4,318.3 43.0,322.3 43.7,301.4 44.3,367.0 45.0,333.0 45.6,317.9 46.3,336.5 46.9,335.5 47.5,363.5 48.2,309.1 48.8,232.4 49.5,279.2 50.1,253.2 50.8,314.3 51.4,360.8 52.1,278.1 52.7,290.6 53.4,361.0 54.0,317.2 54.7,316.2 55.3,280.5 56.0,316.1 56.6,327.1 57.3,351.5 57.9,363.5 58.6,357.4 59.2,318.0 59.8,317.5 60.5,322.7 61.1,344.0 61.8,344.3 62.4,360.9 63.1,347.5 63.7,302.1 64.4,337.5 65.0,369.4 65.7,347.6 66.3,371.6 67.0,355.5 67.6,359.7 68.3,331.6 68.9,349.2 69.6,366.4 70.2,355.2 70.9,344.0 71.5,358.0 72.2,357.6 72.8,379.0 73.4,322.1 74.1,320.4 74.7,317.7 75.4,336.8 76.0,343.7 76.7,344.9 77.3,348.5 78.0,349.5 78.6,356.0 79.3,326.4 79.9,354.6 80.6,355.2 81.2,358.2 81.9,337.0 82.5,330.7 83.2,344.7 83.8,373.8 84.5,334.7 85.1,310.8 85.7,333.0 86.4,371.1 87.0,354.9 87.7,340.1 88.3,325.7 89.0,341.0 89.6,317.7 90.3,323.4 90.9,344.4 91.6,350.2 92.2,365.8 92.9,332.7 93.5,333.0 94.2,332.0 94.8,311.7 95.5,337.9 96.1,351.8 96.8,367.9 97.4,351.6 98.0,357.0 98.7,328.9 99.3,362.9 100.0,342.8 100.6,332.1 101.3,352.7 101.9,360.0 102.6,349.0 103.2,338.2 103.9,338.0 104.5,327.1 105.2,351.4 105.8,369.2 106.5,351.2 107.1,329.5 107.8,359.6 108.4,358.5 109.1,344.9 109.7,323.3 110.3,347.9 111.0,359.1 111.6,363.8 112.3,356.0 112.9,366.0 113.6,368.7 114.2,336.5 114.9,336.9 115.5,349.2 116.2,368.4 116.8,350.4 117.5,373.6 118.1,354.5 118.8,363.3 119.4,370.8 120.1,353.2 120.7,346.5 121.4,356.0 122.0,363.7 122.7,362.5 123.3,364.3 123.9,356.2 124.6,361.0 125.2,368.0 125.9,348.1 126.5,344.2 127.2,349.6 127.8,374.4 128.5,373.3 129.1,366.7 129.8,360.3 130.4,366.4 131.1,369.6 131.7,372.9 132.4,376.0 133.0,364.4 133.7,359.3 134.3,368.2 135.0,374.1 135.6,373.4 136.2,365.1 136.9,377.9 137.5,375.0 138.2,370.0 138.8,370.6 139.5,372.7 140.1,373.8 140.8,369.6 141.4,367.7 142.1,371.4 142.7,374.1 143.4,372.9 144.0,374.6 144.7,371.5 145.3,372.9 146.0,371.3 146.6,371.4 147.3,369.7 147.9,374.0 148.5,376.1 149.2,368.7 149.8,373.2 150.5,369.8 151.1,370.8 151.8,369.9 152.4,365.3 153.1,370.5 153.7,366.6 154.4,366.4 155.0,362.3 155.7,368.2 156.3,372.4 157.0,366.6 157.6,363.6 158.3,376.0 158.9,365.3 159.6,367.7 160.2,365.2 160.8,367.7 161.5,364.9 162.1,356.9 162.8,366.7 163.4,362.1 164.1,352.0 164.7,364.2 165.4,375.2 166.0,375.6 166.7,366.2 167.3,371.4 168.0,372.7 168.6,377.6 169.3,373.7 169.9,373.0 170.6,371.4 171.2,371.8 171.9,373.4 172.5,375.3 173.1,366.9 173.8,361.0 174.4,368.0 175.1,367.3 175.7,368.5 176.4,371.7 177.0,378.1 177.7,365.4 178.3,368.3 179.0,369.7 179.6,367.2 180.3,361.2 180.9,357.8 181.6,360.0 182.2,370.2 182.9,368.7 183.5,358.8 184.2,369.9 184.8,371.4 185.5,371.1 186.1,368.6 186.7,369.7 187.4,373.1 188.0,361.7 188.7,376.6 189.3,371.5 190.0,367.5 190.6,366.3 191.3,357.9 191.9,366.2 192.6,366.1 193.2,360.4 193.9,366.5 194.5,372.2 195.2,367.8 195.8,362.2 196.5,359.2 197.1,368.0 197.8,370.6 198.4,362.4 199.0,368.9 199.7,371.4 200.3,377.5 201.0,374.1 201.6,371.5 202.3,373.4 202.9,375.6 203.6,373.1 204.2,371.1 204.9,374.8 205.5,375.5 206.2,369.7 206.8,372.9 207.5,373.9 208.1,371.0 208.8,373.5 209.4,376.6 210.1,367.3 210.7,371.8 211.3,373.8 212.0,369.6 212.6,373.4 213.3,375.9 213.9,375.6 214.6,372.5 215.2,370.7 215.9,378.5 216.5,367.9 217.2,368.7 217.8,369.6 218.5,357.8 219.1,362.0 219.8,368.8 220.4,358.1 221.1,376.6 221.7,372.2 222.4,374.6 223.0,361.1 223.6,374.4 224.3,362.9 224.9,369.5 225.6,375.1 226.2,364.4 226.9,355.2 227.5,361.9 228.2,372.2 228.8,366.1 229.5,361.6 230.1,357.8 230.8,363.2 231.4,370.9 232.1,373.0 232.7,370.6 233.4,377.5 234.0,375.4 234.7,374.1 235.3,371.5 236.0,375.2 236.6,376.2 237.2,374.7 237.9,373.1 238.5,373.6 239.2,374.7 239.8,373.9 240.5,373.7 241.1,364.2 241.8,356.2 242.4,369.0 243.1,374.9 243.7,374.3 244.4,365.8 245.0,370.6 245.7,374.3 246.3,370.8 247.0,371.4 247.6,370.4 248.3,369.6 248.9,362.0 249.5,371.2 250.2,357.8 250.8,348.4 251.5,354.0 252.1,368.0 252.8,371.5 253.4,354.6 254.1,359.7 254.7,357.7 255.4,367.9 256.0,365.4 256.7,369.4 257.3,369.9 258.0,370.0 258.6,364.8 259.3,362.0 259.9,372.6 260.6,369.2 261.2,367.4"/>
<polyline fill="none" stroke="#6060ff" stroke-width="0.55" stroke-linejoin="round"  points="34.6,365.8 35.2,316.7 35.9,313.9 36.5,229.4 37.2,293.6 37.8,294.9 38.5,328.3 39.1,371.8 39.8,364.7 40.4,369.4 41.1,328.7 41.7,321.7 42.4,296.1 43.0,362.4 43.7,322.1 44.3,342.4 45.0,329.5 45.6,333.1 46.3,368.2 46.9,334.5 47.5,246.9 48.2,285.1 48.8,239.6 49.5,321.1 50.1,364.6 50.8,286.6 51.4,282.9 52.1,358.0 52.7,319.0 53.4,333.3 54.0,288.9 54.7,334.6 55.3,324.1 56.0,346.7 56.6,367.0 57.3,346.5 57.9,329.8 58.6,321.3 59.2,334.8 59.8,352.7 60.5,335.3 61.1,363.4 61.8,355.8 62.4,294.9 63.1,334.0 63.7,366.5 64.4,350.3 65.0,367.2 65.7,357.3 66.3,347.5 67.0,337.6 67.6,350.4 68.3,363.1 68.9,367.1 69.6,343.0 70.2,342.5 70.9,357.9 71.5,373.6 72.2,330.3 72.8,340.0 73.4,322.4 74.1,343.3 74.7,341.8 75.4,347.6 76.0,353.3 76.7,359.1 77.3,348.6 78.0,338.1 78.6,347.7 79.3,357.2 79.9,366.8 80.6,345.3 81.2,327.3 81.9,345.4 82.5,370.4 83.2,344.4 83.8,304.2 84.5,329.4 85.1,374.4 85.7,359.3 86.4,344.2 87.0,329.0 87.7,359.7 88.3,322.6 89.0,331.7 89.6,348.4 90.3,362.9 90.9,352.3 91.6,341.7 92.2,331.1 92.9,340.8 93.5,317.5 94.2,331.9 94.8,349.2 95.5,363.1 96.1,355.0 96.8,346.9 97.4,338.8 98.0,364.8 98.7,344.1 99.3,328.5 100.0,353.3 100.6,352.6 101.3,345.4 101.9,338.3 102.6,341.7 103.2,322.5 103.9,358.1 104.5,363.8 105.2,352.2 105.8,340.5 106.5,363.3 107.1,356.8 107.8,340.6 108.4,317.7 109.1,347.5 109.7,363.0 110.3,359.7 111.0,356.4 111.6,362.7 112.3,369.1 112.9,343.5 113.6,340.2 114.2,353.2 114.9,364.3 115.5,354.7 116.2,368.6 116.8,349.0 117.5,356.5 118.1,364.1 118.8,357.3 119.4,344.2 120.1,353.5 120.7,368.0 121.4,363.7 122.0,359.3 122.7,355.0 123.3,360.0 123.9,365.0 124.6,357.7 125.2,346.9 125.9,353.6 126.5,375.6 127.2,371.4 127.8,367.1 128.5,362.9 129.1,366.8 129.8,370.7 130.4,374.6 131.1,371.2 131.7,367.8 132.4,364.4 133.0,370.3 133.7,376.2 134.3,370.6 135.0,364.9 135.6,376.3 136.2,374.0 136.9,371.6 137.5,369.3 138.2,372.5 138.8,371.0 139.5,369.4 140.1,367.8 140.8,370.4 141.4,373.1 142.1,375.7 142.7,372.8 143.4,369.9 144.0,371.6 144.7,373.2 145.3,374.9 146.0,370.2 146.6,372.8 147.3,375.3 147.9,370.6 148.5,371.6 149.2,372.5 149.8,373.5 150.5,370.0 151.1,366.6 151.8,372.1 152.4,369.9 153.1,365.4 153.7,361.0 154.4,369.9 155.0,370.6 155.7,366.9 156.3,363.1 157.0,373.5 157.6,361.1 158.3,365.2 158.9,369.2 159.6,373.3 160.2,366.8 160.8,360.4 161.5,365.2 162.1,365.5 162.8,349.6 163.4,365.5 164.1,372.6 164.7,375.8 165.4,365.5 166.0,369.4 166.7,373.3 167.3,377.2 168.0,375.1 168.6,373.0 169.3,370.9 169.9,372.0 170.6,373.1 171.2,374.2 171.9,369.3 172.5,362.4 173.1,372.6 173.8,370.3 174.4,364.3 175.1,370.6 175.7,376.9 176.4,365.9 177.0,367.1 177.7,368.2 178.3,369.4 179.0,362.4 179.6,356.2 180.3,364.7 180.9,373.0 181.6,367.1 182.2,361.2 182.9,367.9 183.5,374.6 184.2,370.5 184.8,366.4 185.5,368.7 186.1,371.0 186.7,362.2 187.4,377.1 188.0,371.5 188.7,366.0 189.3,359.5 190.0,356.2 190.6,365.6 191.3,366.7 191.9,363.3 192.6,367.2 193.2,371.2 193.9,367.3 194.5,362.7 195.2,360.6 195.8,369.1 196.5,368.6 197.1,364.8 197.8,368.9 198.4,373.0 199.0,377.1 199.7,374.2 200.3,371.3 201.0,373.9 201.6,376.6 202.3,373.4 202.9,370.2 203.6,373.9 204.2,377.5 204.9,369.4 205.5,372.5 206.2,375.7 206.8,372.3 207.5,374.2 208.1,376.1 208.8,370.2 209.4,372.3 210.1,374.5 210.7,369.4 211.3,371.7 212.0,374.0 212.6,376.2 213.3,373.2 213.9,370.2 214.6,375.7 215.2,364.2 215.9,367.8 216.5,368.1 217.2,356.2 217.8,366.7 218.5,377.0 219.1,360.7 219.8,374.9 220.4,369.7 221.1,364.5 221.7,359.3 222.4,373.9 223.0,365.8 223.6,371.3 224.3,376.9 224.9,367.2 225.6,356.9 226.2,369.0 226.9,368.9 227.5,364.7 228.2,359.6 228.8,356.2 229.5,368.1 230.1,372.1 230.8,371.5 231.4,370.8 232.1,377.2 232.7,375.5 233.4,373.8 234.0,372.1 234.7,374.7 235.3,377.3 236.0,375.0 236.6,372.7 237.2,373.5 237.9,374.2 238.5,374.9 239.2,373.3 239.8,368.1 240.5,358.4 241.1,370.2 241.8,376.7 242.4,372.1 243.1,367.4 243.7,371.7 244.4,370.0 245.0,368.2 245.7,370.0 246.3,368.1 247.0,366.1 247.6,364.2 248.3,370.4 248.9,363.6 249.5,350.9 250.2,356.9 250.8,365.5 251.5,371.4 252.1,356.5 252.8,360.8 253.4,356.2 254.1,368.6 254.7,365.9 255.4,370.5 256.0,369.1 256.7,367.8 257.3,366.4 258.0,369.1 258.6,371.8 259.3,370.1 259.9,368.4 260.6,366.7 261.2,369.4"/>
<polyline fill="none" stroke="#ff48ff" stroke-width="0.6" stroke-dasharray="2.2,0.9,0.8,0.9" stroke-linejoin="round"  points="34.6,330.8 35.2,300.9 35.9,348.9 36.5,339.4 37.2,321.3 37.8,348.1 38.5,357.6 39.1,350.8 39.8,344.1 40.4,337.3 41.1,374.8 41.7,333.0 42.4,341.5 43.0,350.1 43.7,358.6 44.3,349.8 45.0,341.1 45.6,332.4 46.3,346.1 46.9,359.8 47.5,355.5 48.2,351.1 48.8,346.7 49.5,352.2 50.1,357.7 50.8,363.2 51.4,357.8 52.1,352.4 52.7,357.6 53.4,362.9 54.0,360.3 54.7,357.8 55.3,363.4 56.0,369.0 56.6,355.4 57.3,341.7 57.9,360.2 58.6,353.9 59.2,347.6 59.8,341.2 60.5,369.9 61.1,359.5 61.8,349.1 62.4,350.0 63.1,350.9 63.7,351.8 64.4,352.8 65.0,353.7 65.7,354.6 66.3,351.7 67.0,337.0 67.6,346.3 68.3,355.7 68.9,350.1 69.6,344.5 70.2,353.2 70.9,361.9 71.5,370.6 72.2,363.5 72.8,356.3 73.4,349.1 74.1,360.3 74.7,371.5 75.4,362.0 76.0,352.6 76.7,343.2 77.3,359.6 78.0,341.3 78.6,345.3 79.3,349.3 79.9,353.3 80.6,349.8 81.2,346.3 81.9,361.3 82.5,376.4 83.2,370.6 83.8,364.7 84.5,358.9 85.1,357.8 85.7,356.6 86.4,355.5 87.0,353.0 87.7,350.5 88.3,348.0 89.0,361.8 89.6,375.6 90.3,364.7 90.9,353.9 91.6,343.0 92.2,353.2 92.9,363.4 93.5,360.1 94.2,356.9 94.8,353.7 95.5,362.8 96.1,371.8 96.8,364.3 97.4,356.9 98.0,349.4 98.7,365.9 99.3,363.4 100.0,360.9 100.6,358.4 101.3,363.4 101.9,368.3 102.6,373.2 103.2,348.3 103.9,375.6 104.5,359.9 105.2,362.1 105.8,364.2 106.5,366.4 107.1,358.1 107.8,349.8 108.4,353.4 109.1,357.0 109.7,360.6 110.3,357.6 111.0,354.7 111.6,351.7 112.3,374.7 112.9,363.2 113.6,351.6 114.2,356.9 114.9,362.3 115.5,367.7 116.2,363.2 116.8,374.1 117.5,370.0 118.1,365.9 118.8,361.9 119.4,363.1 120.1,364.3 120.7,365.6 121.4,360.2 122.0,373.0 122.7,369.8 123.3,366.6 123.9,367.1 124.6,367.5 125.2,368.0 125.9,365.8 126.5,363.6 127.2,361.4 127.8,364.7 128.5,367.9 129.1,371.2 129.8,370.4 130.4,369.6 131.1,368.7 131.7,371.5 132.4,374.3 133.0,370.0 133.7,365.7 134.3,368.7 135.0,371.7 135.6,366.8 136.2,361.9 136.9,367.5 137.5,373.2 138.2,369.8 138.8,366.4 139.5,363.0 140.1,369.8 140.8,368.4 141.4,367.0 142.1,365.6 142.7,367.9 143.4,370.2 144.0,372.5 144.7,371.7 145.3,370.8 146.0,369.9 146.6,371.0 147.3,367.4 147.9,373.4 148.5,371.3 149.2,369.2 149.8,376.8 150.5,364.7 151.1,367.5 151.8,370.2 152.4,373.0 153.1,362.4 153.7,364.8 154.4,367.3 155.0,369.7 155.7,366.9 156.3,364.1 157.0,368.3 157.6,372.5 158.3,376.6 158.9,373.6 159.6,370.7 160.2,367.7 160.8,373.0 161.5,369.6 162.1,366.1 162.8,362.6 163.4,369.7 164.1,376.7 164.7,363.2 165.4,366.3 166.0,369.5 166.7,372.7 167.3,367.8 168.0,362.9 168.6,364.8 169.3,366.7 169.9,368.6 170.6,367.8 171.2,371.5 171.9,375.2 172.5,366.8 173.1,368.1 173.8,369.5 174.4,370.2 175.1,371.0 175.7,372.7 176.4,374.3 177.0,376.0 177.7,366.2 178.3,369.7 179.0,373.2 179.6,370.8 180.3,368.5 180.9,366.2 181.6,371.7 182.2,377.2 182.9,373.3 183.5,369.5 184.2,372.0 184.8,374.5 185.5,370.8 186.1,367.2 186.7,363.5 187.4,375.5 188.0,373.6 188.7,371.7 189.3,372.7 190.0,373.7 190.6,374.7 191.3,368.0 191.9,369.6 192.6,371.2 193.2,372.8 193.9,370.3 194.5,367.8 195.2,371.5 195.8,375.2 196.5,363.7 197.1,371.3 197.8,367.8 198.4,370.1 199.0,372.4 199.7,374.7 200.3,372.7 201.0,370.8 201.6,368.8 202.3,369.4 202.9,369.9 203.6,369.6 204.2,369.2 204.9,373.2 205.5,377.2 206.2,364.7 206.8,368.7 207.5,372.6 208.1,376.5 208.8,367.2 209.4,369.0 210.1,370.8 210.7,372.6 211.3,372.0 212.0,371.5 212.6,370.9 213.3,373.1 213.9,375.4 214.6,373.7 215.2,372.0 215.9,372.9 216.5,373.9 217.2,373.0 217.8,372.0 218.5,371.1 219.1,370.4 219.8,369.7 220.4,368.4 221.1,367.1 221.7,365.8 222.4,370.9 223.0,376.1 223.6,368.2 224.3,369.4 224.9,370.7 225.6,367.7 226.2,364.7 226.9,368.1 227.5,371.5 228.2,374.9 228.8,372.6 229.5,370.2 230.1,367.9 230.8,369.8 231.4,371.7 232.1,373.6 232.7,371.9 233.4,374.3 234.0,376.7 234.7,370.2 235.3,371.2 236.0,372.2 236.6,372.0 237.2,372.6 237.9,367.4 238.5,369.0 239.2,370.6 239.8,372.2 240.5,370.7 241.1,369.1 241.8,367.6 242.4,369.9 243.1,372.1 243.7,372.1 244.4,372.1 245.0,372.1 245.7,371.3 246.3,373.5 247.0,375.8 247.6,372.7 248.3,369.5 248.9,372.8 249.5,371.7 250.2,370.6 250.8,369.5 251.5,370.7 252.1,371.8 252.8,368.0 253.4,369.7 254.1,371.4 254.7,369.6 255.4,367.8 256.0,369.5 256.7,371.2 257.3,372.9 258.0,370.8 258.6,368.6 259.3,366.4 259.9,372.7 260.6,369.8 261.2,366.9"/>
</g></g>
<g clip-path="url(#clipd)"><g filter="url(#soft)">
<polyline fill="none" stroke="#ff6060" stroke-width="0.5" stroke-linejoin="round"  points="310.0,316.7 310.7,316.9 311.3,320.1 312.0,257.4 312.6,231.7 313.3,265.7 313.9,305.8 314.6,297.3 315.3,292.1 315.9,275.7 316.6,302.5 317.2,309.9 317.9,290.7 318.5,310.4 319.2,283.0 319.9,262.1 320.5,284.9 321.2,312.2 321.8,335.8 322.5,239.8 323.1,212.4 323.8,287.9 324.5,275.0 325.1,233.0 325.8,273.4 326.4,334.0 327.1,290.5 327.7,330.0 328.4,308.0 329.1,290.2 329.7,272.1 330.4,271.5 331.0,261.0 331.7,292.3 332.3,304.0 333.0,298.3 333.7,287.9 334.3,300.9 335.0,295.2 335.6,265.4 336.3,301.4 336.9,333.5 337.6,305.1 338.3,281.0 338.9,283.5 339.6,278.8 340.2,287.2 340.9,311.1 341.5,331.6 342.2,317.7 342.9,297.0 343.5,330.1 344.2,298.8 344.8,310.1 345.5,317.1 346.1,329.4 346.8,309.0 347.5,313.3 348.1,290.7 348.8,296.3 349.4,317.4 350.1,322.6 350.7,312.8 351.4,298.4 352.1,316.1 352.7,310.6 353.4,310.8 354.0,318.3 354.7,300.5 355.3,306.4 356.0,348.8 356.7,345.0 357.3,323.8 358.0,309.4 358.6,325.3 359.3,316.6 359.9,317.9 360.6,303.0 361.3,282.8 361.9,300.4 362.6,306.4 363.2,306.7 363.9,291.6 364.5,334.3 365.2,327.6 365.9,346.9 366.5,341.3 367.2,336.3 367.8,328.4 368.5,328.0 369.1,329.3 369.8,320.0 370.5,316.2 371.1,330.7 371.8,310.7 372.4,267.5 373.1,289.0 373.7,319.4 374.4,316.3 375.1,307.1 375.7,293.5 376.4,317.6 377.0,348.0 377.7,329.3 378.3,319.0 379.0,317.8 379.7,337.5 380.3,334.0 381.0,311.8 381.6,316.8 382.3,322.9 382.9,327.1 383.6,344.2 384.3,324.0 384.9,287.7 385.6,316.7 386.2,355.8 386.9,335.1 387.5,323.9 388.2,309.2 388.9,297.3 389.5,319.6 390.2,350.4 390.8,316.9 391.5,335.5 392.1,321.3 392.8,311.9 393.5,305.8 394.1,325.4 394.8,352.1 395.4,307.5 396.1,315.8 396.7,304.1 397.4,281.2 398.1,289.9 398.7,347.6 399.4,357.7 400.0,335.3 400.7,337.5 401.3,350.7 402.0,310.1 402.7,317.8 403.3,346.3 404.0,351.5 404.6,316.1 405.3,337.5 405.9,334.8 406.6,304.2 407.3,324.4 407.9,355.4 408.6,340.4 409.2,296.0 409.9,308.3 410.5,322.3 411.2,319.8 411.9,304.8 412.5,298.8 413.2,311.0 413.8,333.4 414.5,350.9 415.1,351.9 415.8,357.2 416.5,348.7 417.1,362.4 417.8,370.4 418.4,350.3 419.1,330.9 419.7,324.1 420.4,336.0 421.1,354.6 421.7,342.3 422.4,363.3 423.0,351.2 423.7,336.4 424.3,331.2 425.0,299.9 425.7,290.2 426.3,316.9 427.0,339.9 427.6,333.1 428.3,326.8 428.9,329.6 429.6,336.2 430.3,370.6 430.9,354.8 431.6,343.3 432.2,331.6 432.9,332.2 433.5,330.9 434.2,328.2 434.9,328.8 435.5,333.2 436.2,335.5 436.8,343.1 437.5,332.3 438.1,324.0 438.8,321.2 439.5,307.5 440.1,329.2 440.8,324.2 441.4,331.9 442.1,340.4 442.7,335.8 443.4,336.7 444.1,347.9 444.7,343.5 445.4,337.2 446.0,330.7 446.7,321.6 447.3,304.8 448.0,321.3 448.7,332.8 449.3,335.1 450.0,343.8 450.6,347.2 451.3,337.9 451.9,341.5 452.6,356.4 453.3,358.2 453.9,350.9 454.6,359.5 455.2,286.0 455.9,321.0 456.5,367.8 457.2,346.5 457.9,340.8 458.5,318.3 459.2,353.0 459.8,363.3 460.5,346.4 461.1,321.8 461.8,345.6 462.5,353.7 463.1,342.4 463.8,333.3 464.4,335.1 465.1,338.5 465.7,348.7 466.4,326.7 467.1,318.1 467.7,340.2 468.4,342.1 469.0,323.8 469.7,306.3 470.3,288.3 471.0,316.5 471.7,336.5 472.3,357.6 473.0,340.5 473.6,340.1 474.3,337.9 474.9,333.1 475.6,332.3 476.3,331.7 476.9,339.3 477.6,322.9 478.2,331.3 478.9,347.1 479.5,330.7 480.2,322.2 480.9,319.6 481.5,338.4 482.2,349.2 482.8,349.3 483.5,313.7 484.1,321.7 484.8,317.3 485.5,322.5 486.1,326.5 486.8,326.3 487.4,334.1 488.1,339.3 488.7,334.9 489.4,324.1 490.1,336.2 490.7,340.8 491.4,352.2 492.0,360.7 492.7,355.7 493.3,336.8 494.0,315.0 494.7,346.8 495.3,335.6 496.0,325.7 496.6,351.9 497.3,342.7 497.9,330.8 498.6,324.7 499.3,341.7 499.9,320.6 500.6,349.8 501.2,329.6 501.9,308.1 502.5,333.5 503.2,330.2 503.9,324.6 504.5,335.6 505.2,341.1 505.8,324.5 506.5,313.6 507.1,318.1 507.8,325.5 508.5,331.3 509.1,337.7 509.8,339.2 510.4,337.7 511.1,345.0 511.7,331.8 512.4,342.3 513.1,341.6 513.7,328.5 514.4,326.3 515.0,334.4 515.7,345.0 516.3,327.0 517.0,340.7 517.7,359.0 518.3,332.7 519.0,359.1 519.6,334.3 520.3,341.0 520.9,344.5 521.6,333.9 522.3,324.5 522.9,331.2 523.6,320.9 524.2,334.9 524.9,351.1 525.5,346.8 526.2,336.8 526.9,332.3 527.5,328.9 528.2,334.1 528.8,340.4 529.5,325.1 530.1,330.9 530.8,341.4 531.5,334.7 532.1,328.9 532.8,322.9 533.4,334.3 534.1,323.5 534.7,352.3 535.4,345.2 536.1,340.4 536.7,330.0 537.4,338.1 538.0,337.9 538.7,330.1 539.3,332.2 540.0,328.9"/>
<polyline fill="none" stroke="#6060ff" stroke-width="0.5" stroke-linejoin="round"  points="310.0,315.3 310.7,273.8 311.3,218.8 312.0,285.5 312.6,309.9 313.3,300.9 313.9,299.2 314.6,269.9 315.3,313.9 315.9,308.5 316.6,293.7 317.2,314.9 317.9,293.8 318.5,266.9 319.2,290.3 319.9,313.7 320.5,337.1 321.2,256.8 321.8,226.5 322.5,313.6 323.1,295.5 323.8,219.9 324.5,287.0 325.1,332.4 325.8,286.2 326.4,321.2 327.1,315.2 327.7,294.5 328.4,265.2 329.1,287.1 329.7,268.6 330.4,300.6 331.0,310.1 331.7,306.2 332.3,291.9 333.0,309.6 333.7,295.1 334.3,274.3 335.0,304.8 335.6,335.4 336.3,312.0 336.9,285.0 337.6,277.9 338.3,278.9 338.9,296.6 339.6,313.9 340.2,331.2 340.9,313.2 341.5,295.3 342.2,332.0 342.9,295.4 343.5,314.5 344.2,306.5 344.8,329.5 345.5,312.3 346.1,320.2 346.8,294.8 347.5,305.6 348.1,313.9 348.8,316.4 349.4,307.4 350.1,298.3 350.7,321.1 351.4,316.5 352.1,311.9 352.7,319.9 353.4,297.3 354.0,304.2 354.7,347.9 355.3,336.1 356.0,324.4 356.7,312.6 357.3,324.6 358.0,318.9 358.6,313.3 359.3,300.8 359.9,276.5 360.6,309.8 361.3,311.5 361.9,304.5 362.6,297.5 363.2,332.7 363.9,327.0 364.5,351.1 365.2,336.9 365.9,340.1 366.5,324.6 367.2,323.5 367.8,322.4 368.5,321.2 369.1,315.9 369.8,330.3 370.5,327.9 371.1,258.6 371.8,293.5 372.4,315.9 373.1,322.2 373.7,317.8 374.4,297.6 375.1,320.9 375.7,345.2 376.4,332.2 377.0,319.1 377.7,325.1 378.3,331.1 379.0,337.2 379.7,308.9 380.3,323.0 381.0,322.6 381.6,331.9 382.3,341.2 382.9,336.7 383.6,281.7 384.3,321.7 384.9,351.1 385.6,340.6 386.2,330.1 386.9,314.5 387.5,301.3 388.2,324.8 388.9,354.4 389.5,311.0 390.2,336.9 390.8,323.5 391.5,310.1 392.1,296.7 392.8,321.9 393.5,347.0 394.1,309.2 394.8,316.3 395.4,307.6 396.1,273.7 396.7,300.0 397.4,339.2 398.1,353.5 398.7,327.4 399.4,334.4 400.0,348.8 400.7,312.5 401.3,325.5 402.0,338.4 402.7,351.4 403.3,316.3 404.0,337.1 404.6,346.9 405.3,300.1 405.9,324.3 406.6,359.5 407.3,335.9 407.9,296.0 408.6,308.8 409.2,321.5 409.9,327.8 410.5,308.5 411.2,296.3 411.9,310.8 412.5,329.1 413.2,347.4 413.8,345.2 414.5,361.4 415.1,343.2 415.8,354.3 416.5,376.7 417.1,345.8 417.8,323.5 418.4,331.2 419.1,336.1 419.7,354.2 420.4,337.1 421.1,359.0 421.7,344.9 422.4,345.5 423.0,326.7 423.7,303.8 424.3,296.2 425.0,321.7 425.7,339.4 426.3,334.7 427.0,336.7 427.6,325.9 428.3,326.8 428.9,365.5 429.6,348.1 430.3,338.4 430.9,333.3 431.6,332.7 432.2,332.7 432.9,332.8 433.5,332.9 434.2,334.8 434.9,336.8 435.5,338.7 436.2,331.8 436.8,324.8 437.5,323.0 438.1,302.9 438.8,332.4 439.5,330.3 440.1,340.4 440.8,338.9 441.4,337.3 442.1,335.8 442.7,352.8 443.4,345.2 444.1,337.5 444.7,329.9 445.4,328.0 446.0,309.2 446.7,330.8 447.3,330.0 448.0,337.1 448.7,344.3 449.3,351.4 450.0,337.8 450.6,345.4 451.3,352.9 451.9,360.5 452.6,347.5 453.3,363.3 453.9,293.0 454.6,333.1 455.2,360.3 455.9,347.7 456.5,335.2 457.2,322.7 457.9,341.2 458.5,359.5 459.2,335.6 459.8,327.7 460.5,340.9 461.1,354.1 461.8,340.5 462.5,326.8 463.1,333.9 463.8,340.9 464.4,348.0 465.1,334.1 465.7,315.2 466.4,349.1 467.1,340.7 467.7,325.0 468.4,316.9 469.0,295.0 469.7,327.4 470.3,334.4 471.0,355.0 471.7,345.6 472.3,336.2 473.0,334.7 473.6,332.8 474.3,330.9 474.9,338.4 475.6,331.2 476.3,324.1 476.9,333.7 477.6,343.3 478.2,332.4 478.9,319.9 479.5,324.5 480.2,335.4 480.9,343.9 481.5,352.5 482.2,318.7 482.8,322.4 483.5,314.3 484.1,329.5 484.8,325.8 485.5,329.9 486.1,334.0 486.8,338.1 487.4,333.5 488.1,328.8 488.7,340.7 489.4,334.0 490.1,346.9 490.7,364.7 491.4,353.2 492.0,332.5 492.7,315.0 493.3,346.5 494.0,335.3 494.7,324.2 495.3,350.9 496.0,341.3 496.6,331.8 497.3,322.2 497.9,340.8 498.6,320.2 499.3,353.8 499.9,330.8 500.6,307.8 501.2,335.1 501.9,331.4 502.5,327.8 503.2,337.1 503.9,346.4 504.5,332.1 505.2,310.0 505.8,319.1 506.5,328.1 507.1,332.8 507.8,337.4 508.5,334.9 509.1,332.4 509.8,346.0 510.4,334.0 511.1,344.6 511.7,338.0 512.4,331.4 513.1,324.8 513.7,335.4 514.4,346.1 515.0,324.8 515.7,339.1 516.3,353.3 517.0,330.2 517.7,354.2 518.3,335.4 519.0,341.2 519.6,347.0 520.3,334.9 520.9,322.8 521.6,336.3 522.3,318.5 522.9,334.6 523.6,348.9 524.2,342.9 524.9,336.8 525.5,332.4 526.2,328.1 526.9,336.4 527.5,344.8 528.2,324.2 528.8,330.0 529.5,335.8 530.1,334.4 530.8,329.9 531.5,320.9 532.1,340.4 532.8,325.0 533.4,350.5 534.1,344.3 534.7,338.1 535.4,331.8 536.1,334.5 536.7,337.1 537.4,334.7 538.0,332.4 538.7,330.0 539.3,335.1 540.0,340.3"/>
<polyline fill="none" stroke="#ff48ff" stroke-width="0.6" stroke-dasharray="2.2,0.9,0.8,0.9" stroke-linejoin="round"  points="310.0,333.6 310.7,302.9 311.3,328.8 312.0,319.0 312.6,337.0 313.3,344.5 313.9,341.7 314.6,338.9 315.3,336.1 315.9,339.3 316.6,342.5 317.2,340.8 317.9,339.1 318.5,339.9 319.2,340.7 319.9,339.3 320.5,338.0 321.2,342.2 321.8,339.5 322.5,336.7 323.1,339.0 323.8,341.3 324.5,343.5 325.1,339.7 325.8,335.9 326.4,342.7 327.1,341.3 327.7,339.9 328.4,341.5 329.1,339.7 329.7,337.8 330.4,339.7 331.0,341.6 331.7,343.5 332.3,339.7 333.0,335.8 333.7,339.2 334.3,342.6 335.0,339.4 335.6,336.3 336.3,338.1 336.9,339.9 337.6,341.7 338.3,339.7 338.9,340.8 339.6,342.0 340.2,338.9 340.9,335.8 341.5,338.8 342.2,341.7 342.9,344.7 343.5,342.2 344.2,339.8 344.8,337.4 345.5,341.4 346.1,337.5 346.8,344.1 347.5,338.7 348.1,340.8 348.8,342.9 349.4,345.0 350.1,343.0 350.7,341.0 351.4,339.0 352.1,340.4 352.7,341.9 353.4,343.3 354.0,341.8 354.7,340.3 355.3,338.8 356.0,344.7 356.7,342.4 357.3,340.0 358.0,337.6 358.6,343.9 359.3,336.0 359.9,338.2 360.6,340.4 361.3,342.5 361.9,335.7 362.6,344.4 363.2,342.2 363.9,340.0 364.5,337.8 365.2,340.1 365.9,342.3 366.5,340.3 367.2,338.2 367.8,340.2 368.5,342.3 369.1,340.6 369.8,339.0 370.5,341.2 371.1,343.3 371.8,338.9 372.4,340.7 373.1,342.4 373.7,338.3 374.4,340.1 375.1,341.8 375.7,337.1 376.4,339.3 377.0,341.5 377.7,343.7 378.3,342.4 379.0,341.1 379.7,339.8 380.3,340.3 381.0,340.8 381.6,341.3 382.3,340.3 382.9,339.3 383.6,338.3 384.3,339.7 384.9,341.1 385.6,335.4 386.2,338.2 386.9,340.9 387.5,337.7 388.2,341.5 388.9,339.5 389.5,337.5 390.2,340.3 390.8,339.7 391.5,343.9 392.1,338.8 392.8,341.0 393.5,343.2 394.1,337.6 394.8,339.2 395.4,340.8 396.1,342.4 396.7,341.6 397.4,340.7 398.1,339.9 398.7,340.5 399.4,338.8 400.0,337.1 400.7,335.4 401.3,339.5 402.0,343.7 402.7,336.8 403.3,340.9 404.0,344.9 404.6,337.9 405.3,344.7 405.9,339.2 406.6,343.8 407.3,342.0 407.9,340.3 408.6,338.6 409.2,341.2 409.9,343.8 410.5,339.8 411.2,335.7 411.9,340.9 412.5,346.1 413.2,341.3 413.8,336.5 414.5,337.7 415.1,338.8 415.8,339.9 416.5,339.3 417.1,338.7 417.8,346.8 418.4,335.4 419.1,337.0 419.7,338.6 420.4,340.2 421.1,339.0 421.7,337.8 422.4,340.2 423.0,342.7 423.7,345.2 424.3,341.1 425.0,337.1 425.7,333.0 426.3,340.9 427.0,333.9 427.6,326.8 428.3,344.3 428.9,336.8 429.6,329.3 430.3,338.0 430.9,346.7 431.6,342.0 432.2,337.4 432.9,332.7 433.5,336.5 434.2,340.4 434.9,344.2 435.5,339.7 436.2,335.3 436.8,339.5 437.5,337.2 438.1,334.9 438.8,332.6 439.5,336.5 440.1,340.5 440.8,335.8 441.4,336.4 442.1,337.1 442.7,337.8 443.4,335.2 444.1,332.7 444.7,330.2 445.4,346.7 446.0,331.6 446.7,342.5 447.3,338.0 448.0,333.5 448.7,328.9 449.3,333.6 450.0,338.3 450.6,336.5 451.3,334.7 451.9,342.4 452.6,333.8 453.3,338.7 453.9,343.7 454.6,335.1 455.2,326.5 455.9,330.4 456.5,334.4 457.2,338.3 457.9,333.3 458.5,335.2 459.2,337.1 459.8,339.0 460.5,337.2 461.1,335.4 461.8,336.3 462.5,337.2 463.1,338.1 463.8,335.1 464.4,332.2 465.1,329.2 465.7,341.3 466.4,335.3 467.1,329.3 467.7,332.1 468.4,334.9 469.0,337.7 469.7,337.0 470.3,347.4 471.0,339.8 471.7,332.3 472.3,340.5 473.0,348.7 473.6,330.4 474.3,344.8 474.9,338.3 475.6,331.7 476.3,334.1 476.9,336.5 477.6,338.9 478.2,335.1 478.9,331.4 479.5,336.0 480.2,340.6 480.9,345.3 481.5,341.5 482.2,337.6 482.8,333.8 483.5,345.3 484.1,341.9 484.8,338.5 485.5,335.2 486.1,339.5 486.8,343.8 487.4,335.3 488.1,326.7 488.7,342.9 489.4,339.7 490.1,336.5 490.7,333.3 491.4,346.5 492.0,331.4 492.7,347.3 493.3,341.1 494.0,334.9 494.7,328.7 495.3,344.3 496.0,331.5 496.6,335.5 497.3,339.4 497.9,343.3 498.6,332.0 499.3,343.6 499.9,335.4 500.6,327.1 501.2,336.8 501.9,346.5 502.5,342.0 503.2,337.5 503.9,333.0 504.5,339.8 505.2,335.1 505.8,330.3 506.5,335.2 507.1,340.1 507.8,345.0 508.5,336.0 509.1,327.0 509.8,336.7 510.4,346.4 511.1,337.4 511.7,328.4 512.4,333.8 513.1,339.2 513.7,344.6 514.4,337.1 515.0,329.7 515.7,346.8 516.3,330.4 517.0,334.0 517.7,337.6 518.3,336.9 519.0,336.2 519.6,342.7 520.3,340.7 520.9,338.6 521.6,336.5 522.3,338.1 522.9,339.8 523.6,341.4 524.2,337.7 524.9,334.0 525.5,330.3 526.2,347.8 526.9,340.2 527.5,332.6 528.2,336.9 528.8,341.2 529.5,339.5 530.1,337.8 530.8,336.1 531.5,347.0 532.1,335.0 532.8,346.8 533.4,341.7 534.1,336.7 534.7,331.6 535.4,335.3 536.1,339.1 536.7,336.2 537.4,333.2 538.0,330.3 538.7,335.4 539.3,340.5 540.0,329.7"/>
</g></g>
<line x1="36.60" y1="9.60" x2="260.80" y2="9.60" stroke="#a8a8a8" stroke-width="1.0" />
<line x1="260.80" y1="9.60" x2="260.80" y2="178.20" stroke="#9c9c9c" stroke-width="1.2" />
<line x1="36.60" y1="178.20" x2="260.80" y2="178.20" stroke="#a0a0a0" stroke-width="1.0" />
<line x1="36.60" y1="9.60" x2="36.60" y2="178.20" stroke="#a0a0a0" stroke-width="1.0" />
<line x1="68.63" y1="178.20" x2="68.63" y2="176.20" stroke="#a0a0a0" stroke-width="0.6" />
<line x1="68.63" y1="9.60" x2="68.63" y2="11.60" stroke="#a0a0a0" stroke-width="0.6" />
<line x1="100.66" y1="178.20" x2="100.66" y2="176.20" stroke="#a0a0a0" stroke-width="0.6" />
<line x1="100.66" y1="9.60" x2="100.66" y2="11.60" stroke="#a0a0a0" stroke-width="0.6" />
<line x1="132.69" y1="178.20" x2="132.69" y2="176.20" stroke="#a0a0a0" stroke-width="0.6" />
<line x1="132.69" y1="9.60" x2="132.69" y2="11.60" stroke="#a0a0a0" stroke-width="0.6" />
<line x1="164.71" y1="178.20" x2="164.71" y2="176.20" stroke="#a0a0a0" stroke-width="0.6" />
<line x1="164.71" y1="9.60" x2="164.71" y2="11.60" stroke="#a0a0a0" stroke-width="0.6" />
<line x1="196.74" y1="178.20" x2="196.74" y2="176.20" stroke="#a0a0a0" stroke-width="0.6" />
<line x1="196.74" y1="9.60" x2="196.74" y2="11.60" stroke="#a0a0a0" stroke-width="0.6" />
<line x1="228.77" y1="178.20" x2="228.77" y2="176.20" stroke="#a0a0a0" stroke-width="0.6" />
<line x1="228.77" y1="9.60" x2="228.77" y2="11.60" stroke="#a0a0a0" stroke-width="0.6" />
<line x1="36.60" y1="161.34" x2="38.60" y2="161.34" stroke="#a0a0a0" stroke-width="0.6" />
<line x1="260.80" y1="161.34" x2="258.80" y2="161.34" stroke="#a0a0a0" stroke-width="0.6" />
<line x1="36.60" y1="144.48" x2="38.60" y2="144.48" stroke="#a0a0a0" stroke-width="0.6" />
<line x1="260.80" y1="144.48" x2="258.80" y2="144.48" stroke="#a0a0a0" stroke-width="0.6" />
<line x1="36.60" y1="127.62" x2="38.60" y2="127.62" stroke="#a0a0a0" stroke-width="0.6" />
<line x1="260.80" y1="127.62" x2="258.80" y2="127.62" stroke="#a0a0a0" stroke-width="0.6" />
<line x1="36.60" y1="110.76" x2="38.60" y2="110.76" stroke="#a0a0a0" stroke-width="0.6" />
<line x1="260.80" y1="110.76" x2="258.80" y2="110.76" stroke="#a0a0a0" stroke-width="0.6" />
<line x1="36.60" y1="93.90" x2="38.60" y2="93.90" stroke="#a0a0a0" stroke-width="0.6" />
<line x1="260.80" y1="93.90" x2="258.80" y2="93.90" stroke="#a0a0a0" stroke-width="0.6" />
<line x1="36.60" y1="77.04" x2="38.60" y2="77.04" stroke="#a0a0a0" stroke-width="0.6" />
<line x1="260.80" y1="77.04" x2="258.80" y2="77.04" stroke="#a0a0a0" stroke-width="0.6" />
<line x1="36.60" y1="60.18" x2="38.60" y2="60.18" stroke="#a0a0a0" stroke-width="0.6" />
<line x1="260.80" y1="60.18" x2="258.80" y2="60.18" stroke="#a0a0a0" stroke-width="0.6" />
<line x1="36.60" y1="43.32" x2="38.60" y2="43.32" stroke="#a0a0a0" stroke-width="0.6" />
<line x1="260.80" y1="43.32" x2="258.80" y2="43.32" stroke="#a0a0a0" stroke-width="0.6" />
<line x1="36.60" y1="26.46" x2="38.60" y2="26.46" stroke="#a0a0a0" stroke-width="0.6" />
<line x1="260.80" y1="26.46" x2="258.80" y2="26.46" stroke="#a0a0a0" stroke-width="0.6" />
<line x1="310.30" y1="9.00" x2="539.50" y2="9.00" stroke="#e6e6e6" stroke-width="1.2" />
<line x1="343.04" y1="9.00" x2="343.04" y2="10.80" stroke="#a8a8a8" stroke-width="0.6" />
<line x1="375.79" y1="9.00" x2="375.79" y2="10.80" stroke="#a8a8a8" stroke-width="0.6" />
<line x1="408.53" y1="9.00" x2="408.53" y2="10.80" stroke="#a8a8a8" stroke-width="0.6" />
<line x1="441.27" y1="9.00" x2="441.27" y2="10.80" stroke="#a8a8a8" stroke-width="0.6" />
<line x1="474.01" y1="9.00" x2="474.01" y2="10.80" stroke="#a8a8a8" stroke-width="0.6" />
<line x1="506.76" y1="9.00" x2="506.76" y2="10.80" stroke="#a8a8a8" stroke-width="0.6" />
<line x1="310.30" y1="156.43" x2="312.10" y2="156.43" stroke="#a8a8a8" stroke-width="0.6" />
<line x1="310.30" y1="131.86" x2="312.10" y2="131.86" stroke="#a8a8a8" stroke-width="0.6" />
<line x1="310.30" y1="107.29" x2="312.10" y2="107.29" stroke="#a8a8a8" stroke-width="0.6" />
<line x1="310.30" y1="82.71" x2="312.10" y2="82.71" stroke="#a8a8a8" stroke-width="0.6" />
<line x1="310.30" y1="58.14" x2="312.10" y2="58.14" stroke="#a8a8a8" stroke-width="0.6" />
<line x1="310.30" y1="33.57" x2="312.10" y2="33.57" stroke="#a8a8a8" stroke-width="0.6" />
<line x1="310.00" y1="9.00" x2="310.00" y2="181.00" stroke="#c4c4c4" stroke-width="1.4" />
<line x1="34.60" y1="210.80" x2="261.20" y2="210.80" stroke="#ececec" stroke-width="1.0" />
<line x1="261.20" y1="210.80" x2="261.20" y2="379.00" stroke="#c8c8c8" stroke-width="1.2" />
<line x1="34.60" y1="379.00" x2="261.20" y2="379.00" stroke="#a8a8a8" stroke-width="1.0" />
<line x1="66.97" y1="210.80" x2="66.97" y2="212.80" stroke="#b0b0b0" stroke-width="0.6" />
<line x1="99.34" y1="210.80" x2="99.34" y2="212.80" stroke="#b0b0b0" stroke-width="0.6" />
<line x1="131.71" y1="210.80" x2="131.71" y2="212.80" stroke="#b0b0b0" stroke-width="0.6" />
<line x1="164.09" y1="210.80" x2="164.09" y2="212.80" stroke="#b0b0b0" stroke-width="0.6" />
<line x1="196.46" y1="210.80" x2="196.46" y2="212.80" stroke="#b0b0b0" stroke-width="0.6" />
<line x1="228.83" y1="210.80" x2="228.83" y2="212.80" stroke="#b0b0b0" stroke-width="0.6" />
<line x1="261.20" y1="354.97" x2="259.20" y2="354.97" stroke="#b0b0b0" stroke-width="0.6" />
<line x1="261.20" y1="330.94" x2="259.20" y2="330.94" stroke="#b0b0b0" stroke-width="0.6" />
<line x1="261.20" y1="306.91" x2="259.20" y2="306.91" stroke="#b0b0b0" stroke-width="0.6" />
<line x1="261.20" y1="282.89" x2="259.20" y2="282.89" stroke="#b0b0b0" stroke-width="0.6" />
<line x1="261.20" y1="258.86" x2="259.20" y2="258.86" stroke="#b0b0b0" stroke-width="0.6" />
<line x1="261.20" y1="234.83" x2="259.20" y2="234.83" stroke="#b0b0b0" stroke-width="0.6" />
<line x1="310.00" y1="210.50" x2="540.00" y2="210.50" stroke="#7a7a7a" stroke-width="1.2" />
<line x1="540.00" y1="210.50" x2="540.00" y2="380.30" stroke="#a0a0a0" stroke-width="1.2" />
<line x1="310.00" y1="380.30" x2="540.00" y2="380.30" stroke="#b8b8b8" stroke-width="1.0" />
<line x1="310.00" y1="210.50" x2="310.00" y2="380.30" stroke="#e6e6e6" stroke-width="1.0" />
<line x1="342.86" y1="380.30" x2="342.86" y2="378.30" stroke="#909090" stroke-width="0.6" />
<line x1="342.86" y1="210.50" x2="342.86" y2="212.50" stroke="#909090" stroke-width="0.6" />
<line x1="375.71" y1="380.30" x2="375.71" y2="378.30" stroke="#909090" stroke-width="0.6" />
<line x1="375.71" y1="210.50" x2="375.71" y2="212.50" stroke="#909090" stroke-width="0.6" />
<line x1="408.57" y1="380.30" x2="408.57" y2="378.30" stroke="#909090" stroke-width="0.6" />
<line x1="408.57" y1="210.50" x2="408.57" y2="212.50" stroke="#909090" stroke-width="0.6" />
<line x1="441.43" y1="380.30" x2="441.43" y2="378.30" stroke="#909090" stroke-width="0.6" />
<line x1="441.43" y1="210.50" x2="441.43" y2="212.50" stroke="#909090" stroke-width="0.6" />
<line x1="474.29" y1="380.30" x2="474.29" y2="378.30" stroke="#909090" stroke-width="0.6" />
<line x1="474.29" y1="210.50" x2="474.29" y2="212.50" stroke="#909090" stroke-width="0.6" />
<line x1="507.14" y1="380.30" x2="507.14" y2="378.30" stroke="#909090" stroke-width="0.6" />
<line x1="507.14" y1="210.50" x2="507.14" y2="212.50" stroke="#909090" stroke-width="0.6" />
<text x="34.20" y="180.78" font-size="7.20" text-anchor="end" fill="#3a3a3a" stroke="#3a3a3a" stroke-width="0.12" font-family="'Liberation Sans', Arial, sans-serif" font-weight="normal">0</text>
<text x="34.20" y="163.92" font-size="7.20" text-anchor="end" fill="#3a3a3a" stroke="#3a3a3a" stroke-width="0.12" font-family="'Liberation Sans', Arial, sans-serif" font-weight="normal">100</text>
<text x="34.20" y="147.06" font-size="7.20" text-anchor="end" fill="#3a3a3a" stroke="#3a3a3a" stroke-width="0.12" font-family="'Liberation Sans', Arial, sans-serif" font-weight="normal">200</text>
<text x="34.20" y="130.20" font-size="7.20" text-anchor="end" fill="#3a3a3a" stroke="#3a3a3a" stroke-width="0.12" font-family="'Liberation Sans', Arial, sans-serif" font-weight="normal">300</text>
<text x="34.20" y="113.34" font-size="7.20" text-anchor="end" fill="#3a3a3a" stroke="#3a3a3a" stroke-width="0.12" font-family="'Liberation Sans', Arial, sans-serif" font-weight="normal">400</text>
<text x="34.20" y="96.48" font-size="7.20" text-anchor="end" fill="#3a3a3a" stroke="#3a3a3a" stroke-width="0.12" font-family="'Liberation Sans', Arial, sans-serif" font-weight="normal">500</text>
<text x="34.20" y="79.62" font-size="7.20" text-anchor="end" fill="#3a3a3a" stroke="#3a3a3a" stroke-width="0.12" font-family="'Liberation Sans', Arial, sans-serif" font-weight="normal">600</text>
<text x="34.20" y="62.76" font-size="7.20" text-anchor="end" fill="#3a3a3a" stroke="#3a3a3a" stroke-width="0.12" font-family="'Liberation Sans', Arial, sans-serif" font-weight="normal">700</text>
<text x="34.20" y="45.90" font-size="7.20" text-anchor="end" fill="#3a3a3a" stroke="#3a3a3a" stroke-width="0.12" font-family="'Liberation Sans', Arial, sans-serif" font-weight="normal">800</text>
<text x="34.20" y="29.04" font-size="7.20" text-anchor="end" fill="#3a3a3a" stroke="#3a3a3a" stroke-width="0.12" font-family="'Liberation Sans', Arial, sans-serif" font-weight="normal">900</text>
<text x="34.20" y="12.18" font-size="7.20" text-anchor="end" fill="#3a3a3a" stroke="#3a3a3a" stroke-width="0.12" font-family="'Liberation Sans', Arial, sans-serif" font-weight="normal">1000</text>
<text x="36.60" y="187.68" font-size="7.20" text-anchor="middle" fill="#3a3a3a" stroke="#3a3a3a" stroke-width="0.12" font-family="'Liberation Sans', Arial, sans-serif" font-weight="normal">0</text>
<text x="68.63" y="187.68" font-size="7.20" text-anchor="middle" fill="#3a3a3a" stroke="#3a3a3a" stroke-width="0.12" font-family="'Liberation Sans', Arial, sans-serif" font-weight="normal">50</text>
<text x="100.66" y="187.68" font-size="7.20" text-anchor="middle" fill="#3a3a3a" stroke="#3a3a3a" stroke-width="0.12" font-family="'Liberation Sans', Arial, sans-serif" font-weight="normal">100</text>
<text x="132.69" y="187.68" font-size="7.20" text-anchor="middle" fill="#3a3a3a" stroke="#3a3a3a" stroke-width="0.12" font-family="'Liberation Sans', Arial, sans-serif" font-weight="normal">150</text>
<text x="164.71" y="187.68" font-size="7.20" text-anchor="middle" fill="#3a3a3a" stroke="#3a3a3a" stroke-width="0.12" font-family="'Liberation Sans', Arial, sans-serif" font-weight="normal">200</text>
<text x="196.74" y="187.68" font-size="7.20" text-anchor="middle" fill="#3a3a3a" stroke="#3a3a3a" stroke-width="0.12" font-family="'Liberation Sans', Arial, sans-serif" font-weight="normal">250</text>
<text x="228.77" y="187.68" font-size="7.20" text-anchor="middle" fill="#3a3a3a" stroke="#3a3a3a" stroke-width="0.12" font-family="'Liberation Sans', Arial, sans-serif" font-weight="normal">300</text>
<text x="260.80" y="187.68" font-size="7.20" text-anchor="middle" fill="#3a3a3a" stroke="#3a3a3a" stroke-width="0.12" font-family="'Liberation Sans', Arial, sans-serif" font-weight="normal">350</text>
<text x="307.10" y="183.08" font-size="5.80" text-anchor="end" fill="#3a3a3a" stroke="#3a3a3a" stroke-width="0.12" font-family="'Liberation Sans', Arial, sans-serif" font-weight="normal">0</text>
<text x="307.10" y="158.50" font-size="5.80" text-anchor="end" fill="#3a3a3a" stroke="#3a3a3a" stroke-width="0.12" font-family="'Liberation Sans', Arial, sans-serif" font-weight="normal">200</text>
<text x="307.10" y="133.93" font-size="5.80" text-anchor="end" fill="#3a3a3a" stroke="#3a3a3a" stroke-width="0.12" font-family="'Liberation Sans', Arial, sans-serif" font-weight="normal">400</text>
<text x="307.10" y="109.36" font-size="5.80" text-anchor="end" fill="#3a3a3a" stroke="#3a3a3a" stroke-width="0.12" font-family="'Liberation Sans', Arial, sans-serif" font-weight="normal">600</text>
<text x="307.10" y="84.79" font-size="5.80" text-anchor="end" fill="#3a3a3a" stroke="#3a3a3a" stroke-width="0.12" font-family="'Liberation Sans', Arial, sans-serif" font-weight="normal">800</text>
<text x="307.10" y="60.22" font-size="5.80" text-anchor="end" fill="#3a3a3a" stroke="#3a3a3a" stroke-width="0.12" font-family="'Liberation Sans', Arial, sans-serif" font-weight="normal">1000</text>
<text x="307.10" y="35.65" font-size="5.80" text-anchor="end" fill="#3a3a3a" stroke="#3a3a3a" stroke-width="0.12" font-family="'Liberation Sans', Arial, sans-serif" font-weight="normal">1200</text>
<text x="307.10" y="11.08" font-size="5.80" text-anchor="end" fill="#3a3a3a" stroke="#3a3a3a" stroke-width="0.12" font-family="'Liberation Sans', Arial, sans-serif" font-weight="normal">1400</text>
<text x="310.30" y="188.91" font-size="5.90" text-anchor="middle" fill="#3a3a3a" stroke="#3a3a3a" stroke-width="0.12" font-family="'Liberation Sans', Arial, sans-serif" font-weight="normal">0</text>
<text x="343.04" y="188.91" font-size="5.90" text-anchor="middle" fill="#3a3a3a" stroke="#3a3a3a" stroke-width="0.12" font-family="'Liberation Sans', Arial, sans-serif" font-weight="normal">50</text>
<text x="375.79" y="188.91" font-size="5.90" text-anchor="middle" fill="#3a3a3a" stroke="#3a3a3a" stroke-width="0.12" font-family="'Liberation Sans', Arial, sans-serif" font-weight="normal">100</text>
<text x="408.53" y="188.91" font-size="5.90" text-anchor="middle" fill="#3a3a3a" stroke="#3a3a3a" stroke-width="0.12" font-family="'Liberation Sans', Arial, sans-serif" font-weight="normal">150</text>
<text x="441.27" y="188.91" font-size="5.90" text-anchor="middle" fill="#3a3a3a" stroke="#3a3a3a" stroke-width="0.12" font-family="'Liberation Sans', Arial, sans-serif" font-weight="normal">200</text>
<text x="474.01" y="188.91" font-size="5.90" text-anchor="middle" fill="#3a3a3a" stroke="#3a3a3a" stroke-width="0.12" font-family="'Liberation Sans', Arial, sans-serif" font-weight="normal">250</text>
<text x="506.76" y="188.91" font-size="5.90" text-anchor="middle" fill="#3a3a3a" stroke="#3a3a3a" stroke-width="0.12" font-family="'Liberation Sans', Arial, sans-serif" font-weight="normal">300</text>
<text x="539.50" y="188.91" font-size="5.90" text-anchor="middle" fill="#3a3a3a" stroke="#3a3a3a" stroke-width="0.12" font-family="'Liberation Sans', Arial, sans-serif" font-weight="normal">350</text>
<text x="32.20" y="381.36" font-size="6.60" text-anchor="end" fill="#3a3a3a" stroke="#3a3a3a" stroke-width="0.12" font-family="'Liberation Sans', Arial, sans-serif" font-weight="normal">0</text>
<text x="32.20" y="357.33" font-size="6.60" text-anchor="end" fill="#3a3a3a" stroke="#3a3a3a" stroke-width="0.12" font-family="'Liberation Sans', Arial, sans-serif" font-weight="normal">200</text>
<text x="32.20" y="333.31" font-size="6.60" text-anchor="end" fill="#3a3a3a" stroke="#3a3a3a" stroke-width="0.12" font-family="'Liberation Sans', Arial, sans-serif" font-weight="normal">400</text>
<text x="32.20" y="309.28" font-size="6.60" text-anchor="end" fill="#3a3a3a" stroke="#3a3a3a" stroke-width="0.12" font-family="'Liberation Sans', Arial, sans-serif" font-weight="normal">600</text>
<text x="32.20" y="285.25" font-size="6.60" text-anchor="end" fill="#3a3a3a" stroke="#3a3a3a" stroke-width="0.12" font-family="'Liberation Sans', Arial, sans-serif" font-weight="normal">800</text>
<text x="32.20" y="261.22" font-size="6.60" text-anchor="end" fill="#3a3a3a" stroke="#3a3a3a" stroke-width="0.12" font-family="'Liberation Sans', Arial, sans-serif" font-weight="normal">1000</text>
<text x="32.20" y="237.19" font-size="6.60" text-anchor="end" fill="#3a3a3a" stroke="#3a3a3a" stroke-width="0.12" font-family="'Liberation Sans', Arial, sans-serif" font-weight="normal">1200</text>
<text x="32.20" y="213.16" font-size="6.60" text-anchor="end" fill="#3a3a3a" stroke="#3a3a3a" stroke-width="0.12" font-family="'Liberation Sans', Arial, sans-serif" font-weight="normal">1400</text>
<text x="34.60" y="389.07" font-size="6.90" text-anchor="middle" fill="#3a3a3a" stroke="#3a3a3a" stroke-width="0.12" font-family="'Liberation Sans', Arial, sans-serif" font-weight="normal">0</text>
<text x="66.97" y="389.07" font-size="6.90" text-anchor="middle" fill="#3a3a3a" stroke="#3a3a3a" stroke-width="0.12" font-family="'Liberation Sans', Arial, sans-serif" font-weight="normal">50</text>
<text x="99.34" y="389.07" font-size="6.90" text-anchor="middle" fill="#3a3a3a" stroke="#3a3a3a" stroke-width="0.12" font-family="'Liberation Sans', Arial, sans-serif" font-weight="normal">100</text>
<text x="131.71" y="389.07" font-size="6.90" text-anchor="middle" fill="#3a3a3a" stroke="#3a3a3a" stroke-width="0.12" font-family="'Liberation Sans', Arial, sans-serif" font-weight="normal">150</text>
<text x="164.09" y="389.07" font-size="6.90" text-anchor="middle" fill="#3a3a3a" stroke="#3a3a3a" stroke-width="0.12" font-family="'Liberation Sans', Arial, sans-serif" font-weight="normal">200</text>
<text x="196.46" y="389.07" font-size="6.90" text-anchor="middle" fill="#3a3a3a" stroke="#3a3a3a" stroke-width="0.12" font-family="'Liberation Sans', Arial, sans-serif" font-weight="normal">250</text>
<text x="228.83" y="389.07" font-size="6.90" text-anchor="middle" fill="#3a3a3a" stroke="#3a3a3a" stroke-width="0.12" font-family="'Liberation Sans', Arial, sans-serif" font-weight="normal">300</text>
<text x="261.20" y="389.07" font-size="6.90" text-anchor="middle" fill="#3a3a3a" stroke="#3a3a3a" stroke-width="0.12" font-family="'Liberation Sans', Arial, sans-serif" font-weight="normal">350</text>
<text x="307.10" y="382.56" font-size="6.30" text-anchor="end" fill="#3a3a3a" stroke="#3a3a3a" stroke-width="0.12" font-family="'Liberation Sans', Arial, sans-serif" font-weight="normal">0</text>
<text x="307.10" y="363.69" font-size="6.30" text-anchor="end" fill="#3a3a3a" stroke="#3a3a3a" stroke-width="0.12" font-family="'Liberation Sans', Arial, sans-serif" font-weight="normal">200</text>
<text x="307.10" y="344.82" font-size="6.30" text-anchor="end" fill="#3a3a3a" stroke="#3a3a3a" stroke-width="0.12" font-family="'Liberation Sans', Arial, sans-serif" font-weight="normal">400</text>
<text x="307.10" y="325.96" font-size="6.30" text-anchor="end" fill="#3a3a3a" stroke="#3a3a3a" stroke-width="0.12" font-family="'Liberation Sans', Arial, sans-serif" font-weight="normal">600</text>
<text x="307.10" y="307.09" font-size="6.30" text-anchor="end" fill="#3a3a3a" stroke="#3a3a3a" stroke-width="0.12" font-family="'Liberation Sans', Arial, sans-serif" font-weight="normal">800</text>
<text x="307.10" y="288.22" font-size="6.30" text-anchor="end" fill="#3a3a3a" stroke="#3a3a3a" stroke-width="0.12" font-family="'Liberation Sans', Arial, sans-serif" font-weight="normal">1000</text>
<text x="307.10" y="269.36" font-size="6.30" text-anchor="end" fill="#3a3a3a" stroke="#3a3a3a" stroke-width="0.12" font-family="'Liberation Sans', Arial, sans-serif" font-weight="normal">1200</text>
<text x="307.10" y="250.49" font-size="6.30" text-anchor="end" fill="#3a3a3a" stroke="#3a3a3a" stroke-width="0.12" font-family="'Liberation Sans', Arial, sans-serif" font-weight="normal">1400</text>
<text x="307.10" y="231.62" font-size="6.30" text-anchor="end" fill="#3a3a3a" stroke="#3a3a3a" stroke-width="0.12" font-family="'Liberation Sans', Arial, sans-serif" font-weight="normal">1600</text>
<text x="307.10" y="212.76" font-size="6.30" text-anchor="end" fill="#3a3a3a" stroke="#3a3a3a" stroke-width="0.12" font-family="'Liberation Sans', Arial, sans-serif" font-weight="normal">1800</text>
<text x="310.00" y="390.27" font-size="6.90" text-anchor="middle" fill="#3a3a3a" stroke="#3a3a3a" stroke-width="0.12" font-family="'Liberation Sans', Arial, sans-serif" font-weight="normal">0</text>
<text x="342.86" y="390.27" font-size="6.90" text-anchor="middle" fill="#3a3a3a" stroke="#3a3a3a" stroke-width="0.12" font-family="'Liberation Sans', Arial, sans-serif" font-weight="normal">50</text>
<text x="375.71" y="390.27" font-size="6.90" text-anchor="middle" fill="#3a3a3a" stroke="#3a3a3a" stroke-width="0.12" font-family="'Liberation Sans', Arial, sans-serif" font-weight="normal">100</text>
<text x="408.57" y="390.27" font-size="6.90" text-anchor="middle" fill="#3a3a3a" stroke="#3a3a3a" stroke-width="0.12" font-family="'Liberation Sans', Arial, sans-serif" font-weight="normal">150</text>
<text x="441.43" y="390.27" font-size="6.90" text-anchor="middle" fill="#3a3a3a" stroke="#3a3a3a" stroke-width="0.12" font-family="'Liberation Sans', Arial, sans-serif" font-weight="normal">200</text>
<text x="474.29" y="390.27" font-size="6.90" text-anchor="middle" fill="#3a3a3a" stroke="#3a3a3a" stroke-width="0.12" font-family="'Liberation Sans', Arial, sans-serif" font-weight="normal">250</text>
<text x="507.14" y="390.27" font-size="6.90" text-anchor="middle" fill="#3a3a3a" stroke="#3a3a3a" stroke-width="0.12" font-family="'Liberation Sans', Arial, sans-serif" font-weight="normal">300</text>
<text x="540.00" y="390.27" font-size="6.90" text-anchor="middle" fill="#3a3a3a" stroke="#3a3a3a" stroke-width="0.12" font-family="'Liberation Sans', Arial, sans-serif" font-weight="normal">350</text>
<text transform="translate(11.60,94.30) rotate(-90)" x="0" y="3.08" font-size="8.60" text-anchor="middle" fill="#383838" stroke="#383838" stroke-width="0.12" font-family="'Liberation Sans', Arial, sans-serif" textLength="94.0" lengthAdjust="spacingAndGlyphs">RMSE of x-axis position/m</text>
<text transform="translate(288.40,94.50) rotate(-90)" x="0" y="2.51" font-size="7.00" text-anchor="middle" fill="#383838" stroke="#383838" stroke-width="0.12" font-family="'Liberation Sans', Arial, sans-serif" textLength="79.4" lengthAdjust="spacingAndGlyphs">RMSE of y-axis position/m</text>
<text transform="translate(10.80,294.50) rotate(-90)" x="0" y="3.01" font-size="8.40" text-anchor="middle" fill="#383838" stroke="#383838" stroke-width="0.12" font-family="'Liberation Sans', Arial, sans-serif" textLength="94.3" lengthAdjust="spacingAndGlyphs">RMSE of z-axis position/m</text>
<text transform="translate(287.40,295.00) rotate(-90)" x="0" y="2.51" font-size="7.00" text-anchor="middle" fill="#383838" stroke="#383838" stroke-width="0.12" font-family="'Liberation Sans', Arial, sans-serif" textLength="66.3" lengthAdjust="spacingAndGlyphs">RMSE of position/m</text>
<text x="148.60" y="198.01" font-size="8.40" text-anchor="middle" fill="#303030" stroke="#303030" stroke-width="0.12" font-family="'Liberation Sans', Arial, sans-serif" font-weight="normal">t/s</text>
<text x="425.10" y="198.44" font-size="8.20" text-anchor="middle" fill="#303030" stroke="#303030" stroke-width="0.12" font-family="'Liberation Sans', Arial, sans-serif" font-weight="normal">t/s</text>
<text x="148.10" y="399.01" font-size="8.40" text-anchor="middle" fill="#303030" stroke="#303030" stroke-width="0.12" font-family="'Liberation Sans', Arial, sans-serif" font-weight="normal">t/s</text>
<text x="425.10" y="399.51" font-size="8.40" text-anchor="middle" fill="#303030" stroke="#303030" stroke-width="0.12" font-family="'Liberation Sans', Arial, sans-serif" font-weight="normal">t/s</text>
<text x="139.80" y="20.60" font-size="11.80" fill="#111" font-family="'Liberation Serif', 'Times New Roman', serif" font-weight="bold" textLength="12.4" lengthAdjust="spacingAndGlyphs">(a)</text>
<text x="419.80" y="21.50" font-size="11.80" fill="#111" font-family="'Liberation Serif', 'Times New Roman', serif" font-weight="bold" textLength="13.5" lengthAdjust="spacingAndGlyphs">(b)</text>
<text x="133.70" y="225.60" font-size="11.80" fill="#111" font-family="'Liberation Serif', 'Times New Roman', serif" font-weight="bold" textLength="12.0" lengthAdjust="spacingAndGlyphs">(c)</text>
<text x="414.00" y="223.30" font-size="11.80" fill="#111" font-family="'Liberation Serif', 'Times New Roman', serif" font-weight="bold" textLength="13.8" lengthAdjust="spacingAndGlyphs">(d)</text>
<rect x="40.3" y="13.2" width="62.4" height="27.8" fill="#fff"/>
<line x1="40.30" y1="13.20" x2="102.70" y2="13.20" stroke="#c8c8c8" stroke-width="1.0" />
<line x1="102.70" y1="13.20" x2="102.70" y2="41.00" stroke="#e4e4e4" stroke-width="1.0" />
<line x1="40.30" y1="13.20" x2="40.30" y2="41.00" stroke="#9a9a9a" stroke-width="1.0" />
<line x1="42.00" y1="18.10" x2="54.60" y2="18.10" stroke="#ff8a8a" stroke-width="0.8" />
<line x1="42.00" y1="27.00" x2="54.60" y2="27.00" stroke="#9a9aff" stroke-width="1.3" />
<text x="56.00" y="21.10" font-size="7.30" fill="#1e1e1e" stroke="#1e1e1e" stroke-width="0.22" font-family="'Liberation Sans', Arial, sans-serif" textLength="31.4" lengthAdjust="spacingAndGlyphs">IMM-CKF</text>
<text x="56.00" y="29.80" font-size="7.30" fill="#1e1e1e" stroke="#1e1e1e" stroke-width="0.22" font-family="'Liberation Sans', Arial, sans-serif" textLength="40.0" lengthAdjust="spacingAndGlyphs">IMM-STCKF</text>
<text x="56.00" y="38.70" font-size="7.30" fill="#1e1e1e" stroke="#1e1e1e" stroke-width="0.22" font-family="'Liberation Sans', Arial, sans-serif" textLength="45.0" lengthAdjust="spacingAndGlyphs">AIMM-STCKF</text>
<rect x="338.3" y="21.4" width="53.4" height="23" fill="#fff"/>
<line x1="338.30" y1="21.40" x2="391.70" y2="21.40" stroke="#b0b0b0" stroke-width="0.9" />
<line x1="338.30" y1="21.40" x2="338.30" y2="44.50" stroke="#eeeeee" stroke-width="0.8" />
<line x1="338.80" y1="25.20" x2="350.00" y2="25.20" stroke="#ff9a9a" stroke-width="0.8" />
<line x1="339.60" y1="33.00" x2="350.50" y2="33.00" stroke="#aaaaff" stroke-width="1.4" />
<text x="351.90" y="27.90" font-size="6.20" fill="#1e1e1e" stroke="#1e1e1e" stroke-width="0.22" font-family="'Liberation Sans', Arial, sans-serif" textLength="26.2" lengthAdjust="spacingAndGlyphs">IMM-CKF</text>
<text x="351.90" y="35.60" font-size="6.20" fill="#1e1e1e" stroke="#1e1e1e" stroke-width="0.22" font-family="'Liberation Sans', Arial, sans-serif" textLength="33.8" lengthAdjust="spacingAndGlyphs">IMM-STCKF</text>
<text x="351.90" y="42.60" font-size="6.20" fill="#1e1e1e" stroke="#1e1e1e" stroke-width="0.22" font-family="'Liberation Sans', Arial, sans-serif" textLength="37.1" lengthAdjust="spacingAndGlyphs">AIMM-STCKF</text>
<rect x="55.4" y="221.6" width="58.4" height="27.6" fill="#fff" stroke="#9a9a9a" stroke-width="1"/>
<line x1="56.20" y1="226.00" x2="68.80" y2="226.00" stroke="#ff7878" stroke-width="0.9" />
<line x1="56.20" y1="244.40" x2="68.80" y2="244.40" stroke="#ff90ff" stroke-width="0.9" />
<text x="70.00" y="229.10" font-size="6.90" fill="#1e1e1e" stroke="#1e1e1e" stroke-width="0.22" font-family="'Liberation Sans', Arial, sans-serif" textLength="30.0" lengthAdjust="spacingAndGlyphs">IMM-CKF</text>
<text x="70.00" y="238.10" font-size="6.90" fill="#1e1e1e" stroke="#1e1e1e" stroke-width="0.22" font-family="'Liberation Sans', Arial, sans-serif" textLength="37.8" lengthAdjust="spacingAndGlyphs">IMM-STCKF</text>
<text x="70.00" y="247.10" font-size="6.90" fill="#1e1e1e" stroke="#1e1e1e" stroke-width="0.22" font-family="'Liberation Sans', Arial, sans-serif" textLength="41.7" lengthAdjust="spacingAndGlyphs">AIMM-STCKF</text>
<rect x="340.8" y="217.6" width="55" height="26.9" fill="#fff"/>
<line x1="340.80" y1="217.60" x2="395.80" y2="217.60" stroke="#eeeeee" stroke-width="0.8" />
<line x1="395.80" y1="217.60" x2="395.80" y2="244.50" stroke="#e0e0e0" stroke-width="0.9" />
<line x1="340.80" y1="244.50" x2="395.80" y2="244.50" stroke="#6e6e6e" stroke-width="1.5" />
<line x1="341.40" y1="222.00" x2="352.80" y2="222.00" stroke="#ff9090" stroke-width="0.8" />
<line x1="341.40" y1="231.00" x2="352.80" y2="231.00" stroke="#a0a0ff" stroke-width="1.0" />
<line x1="341.40" y1="238.80" x2="352.80" y2="238.80" stroke="#ffb0ff" stroke-width="1.0" />
<text x="354.60" y="225.00" font-size="6.60" fill="#1e1e1e" stroke="#1e1e1e" stroke-width="0.22" font-family="'Liberation Sans', Arial, sans-serif" textLength="28.2" lengthAdjust="spacingAndGlyphs">IMM-CKF</text>
<text x="354.60" y="233.60" font-size="6.60" fill="#1e1e1e" stroke="#1e1e1e" stroke-width="0.22" font-family="'Liberation Sans', Arial, sans-serif" textLength="35.4" lengthAdjust="spacingAndGlyphs">IMM-STCKF</text>
<text x="354.60" y="242.10" font-size="6.60" fill="#1e1e1e" stroke="#1e1e1e" stroke-width="0.22" font-family="'Liberation Sans', Arial, sans-serif" textLength="40.2" lengthAdjust="spacingAndGlyphs">AIMM-STCKF</text>
</svg>
</body></html>
